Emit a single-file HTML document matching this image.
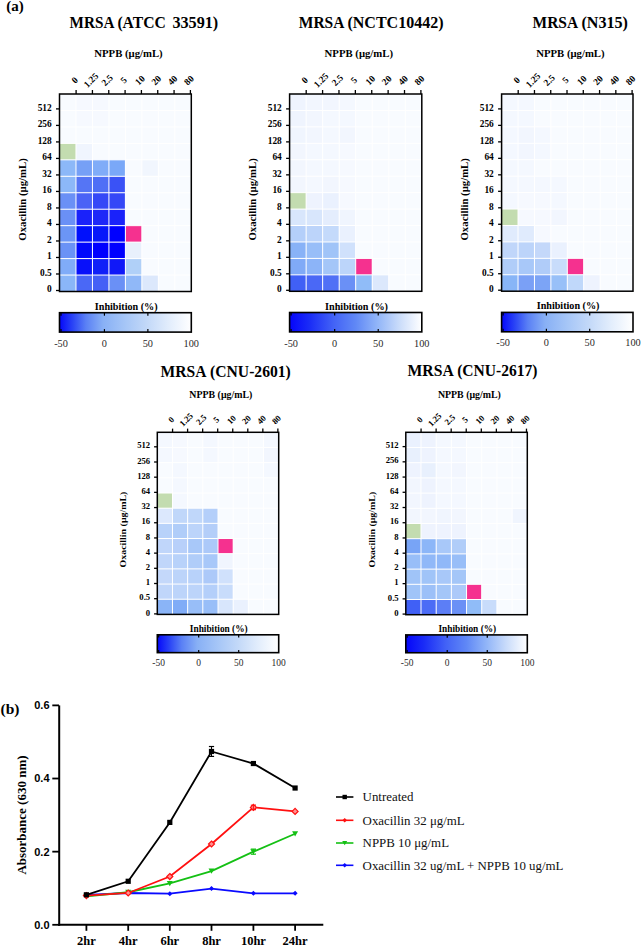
<!DOCTYPE html>
<html><head><meta charset="utf-8"><style>
html,body{margin:0;padding:0;background:#fff;}
body{width:641px;height:945px;overflow:hidden;font-family:"Liberation Serif",serif;}
svg{display:block;}
</style></head><body>
<svg width="641" height="945" viewBox="0 0 641 945">
<defs><linearGradient id="cbg" x1="0" x2="1" y1="0" y2="0">
<stop offset="0" stop-color="#0508fa"/><stop offset="0.1" stop-color="#2a44f6"/><stop offset="0.2" stop-color="#5a80f5"/><stop offset="0.33" stop-color="#88b0f5"/><stop offset="0.5" stop-color="#a6c6f7"/><stop offset="0.66" stop-color="#c2d8f8"/><stop offset="0.83" stop-color="#e2edfc"/><stop offset="1" stop-color="#ffffff"/>
</linearGradient>
<linearGradient id="cbg2" x1="0" x2="1" y1="0" y2="0">
<stop offset="0" stop-color="#0505fa"/><stop offset="0.15" stop-color="#1a2cf7"/><stop offset="0.33" stop-color="#4262f6"/><stop offset="0.5" stop-color="#6088f6"/><stop offset="0.66" stop-color="#90b4f8"/><stop offset="0.83" stop-color="#cadcfa"/><stop offset="1" stop-color="#ffffff"/>
</linearGradient></defs>
<rect width="641" height="945" fill="#fff"/>
<text x="6.3" y="10.5" font-family="'Liberation Serif', serif" font-weight="bold" font-size="15">(a)</text>
<rect x="59.50" y="94.00" width="16.48" height="16.46" fill="#f8fbff"/>
<rect x="75.97" y="94.00" width="16.48" height="16.46" fill="#f6f9ff"/>
<rect x="92.45" y="94.00" width="16.48" height="16.46" fill="#f6f9ff"/>
<rect x="108.93" y="94.00" width="16.48" height="16.46" fill="#f8fbff"/>
<rect x="125.40" y="94.00" width="16.48" height="16.46" fill="#f8fbff"/>
<rect x="141.88" y="94.00" width="16.48" height="16.46" fill="#f8fbff"/>
<rect x="158.35" y="94.00" width="16.48" height="16.46" fill="#f8fbff"/>
<rect x="174.83" y="94.00" width="16.48" height="16.46" fill="#f8fbff"/>
<rect x="59.50" y="110.46" width="16.48" height="16.46" fill="#f8fbff"/>
<rect x="75.97" y="110.46" width="16.48" height="16.46" fill="#f6f9ff"/>
<rect x="92.45" y="110.46" width="16.48" height="16.46" fill="#f6f9ff"/>
<rect x="108.93" y="110.46" width="16.48" height="16.46" fill="#f8fbff"/>
<rect x="125.40" y="110.46" width="16.48" height="16.46" fill="#f8fbff"/>
<rect x="141.88" y="110.46" width="16.48" height="16.46" fill="#f8fbff"/>
<rect x="158.35" y="110.46" width="16.48" height="16.46" fill="#f8fbff"/>
<rect x="174.83" y="110.46" width="16.48" height="16.46" fill="#f8fbff"/>
<rect x="59.50" y="126.92" width="16.48" height="16.46" fill="#f8fbff"/>
<rect x="75.97" y="126.92" width="16.48" height="16.46" fill="#f8fbff"/>
<rect x="92.45" y="126.92" width="16.48" height="16.46" fill="#f8fbff"/>
<rect x="108.93" y="126.92" width="16.48" height="16.46" fill="#f8fbff"/>
<rect x="125.40" y="126.92" width="16.48" height="16.46" fill="#f8fbff"/>
<rect x="141.88" y="126.92" width="16.48" height="16.46" fill="#f8fbff"/>
<rect x="158.35" y="126.92" width="16.48" height="16.46" fill="#f8fbff"/>
<rect x="174.83" y="126.92" width="16.48" height="16.46" fill="#f8fbff"/>
<rect x="59.50" y="143.38" width="16.48" height="16.46" fill="#c3dcb0"/>
<rect x="75.97" y="143.38" width="16.48" height="16.46" fill="#f0f5fe"/>
<rect x="92.45" y="143.38" width="16.48" height="16.46" fill="#f8fbff"/>
<rect x="108.93" y="143.38" width="16.48" height="16.46" fill="#f8fbff"/>
<rect x="125.40" y="143.38" width="16.48" height="16.46" fill="#f8fbff"/>
<rect x="141.88" y="143.38" width="16.48" height="16.46" fill="#f8fbff"/>
<rect x="158.35" y="143.38" width="16.48" height="16.46" fill="#f8fbff"/>
<rect x="174.83" y="143.38" width="16.48" height="16.46" fill="#f8fbff"/>
<rect x="59.50" y="159.83" width="16.48" height="16.46" fill="#8cb8f8"/>
<rect x="75.97" y="159.83" width="16.48" height="16.46" fill="#76a0f6"/>
<rect x="92.45" y="159.83" width="16.48" height="16.46" fill="#80acf8"/>
<rect x="108.93" y="159.83" width="16.48" height="16.46" fill="#7aa8f8"/>
<rect x="125.40" y="159.83" width="16.48" height="16.46" fill="#f8fbff"/>
<rect x="141.88" y="159.83" width="16.48" height="16.46" fill="#f1f6fe"/>
<rect x="158.35" y="159.83" width="16.48" height="16.46" fill="#f8fbff"/>
<rect x="174.83" y="159.83" width="16.48" height="16.46" fill="#f8fbff"/>
<rect x="59.50" y="176.29" width="16.48" height="16.46" fill="#8cb8f8"/>
<rect x="75.97" y="176.29" width="16.48" height="16.46" fill="#5575f5"/>
<rect x="92.45" y="176.29" width="16.48" height="16.46" fill="#4f6ff6"/>
<rect x="108.93" y="176.29" width="16.48" height="16.46" fill="#3a52f6"/>
<rect x="125.40" y="176.29" width="16.48" height="16.46" fill="#f8fbff"/>
<rect x="141.88" y="176.29" width="16.48" height="16.46" fill="#f8fbff"/>
<rect x="158.35" y="176.29" width="16.48" height="16.46" fill="#f8fbff"/>
<rect x="174.83" y="176.29" width="16.48" height="16.46" fill="#f8fbff"/>
<rect x="59.50" y="192.75" width="16.48" height="16.46" fill="#6a90f6"/>
<rect x="75.97" y="192.75" width="16.48" height="16.46" fill="#4a62f6"/>
<rect x="92.45" y="192.75" width="16.48" height="16.46" fill="#3548f7"/>
<rect x="108.93" y="192.75" width="16.48" height="16.46" fill="#3548f7"/>
<rect x="125.40" y="192.75" width="16.48" height="16.46" fill="#f8fbff"/>
<rect x="141.88" y="192.75" width="16.48" height="16.46" fill="#f8fbff"/>
<rect x="158.35" y="192.75" width="16.48" height="16.46" fill="#f8fbff"/>
<rect x="174.83" y="192.75" width="16.48" height="16.46" fill="#f8fbff"/>
<rect x="59.50" y="209.21" width="16.48" height="16.46" fill="#6a90f6"/>
<rect x="75.97" y="209.21" width="16.48" height="16.46" fill="#1a22fa"/>
<rect x="92.45" y="209.21" width="16.48" height="16.46" fill="#1e28f8"/>
<rect x="108.93" y="209.21" width="16.48" height="16.46" fill="#1a22fa"/>
<rect x="125.40" y="209.21" width="16.48" height="16.46" fill="#f8fbff"/>
<rect x="141.88" y="209.21" width="16.48" height="16.46" fill="#f8fbff"/>
<rect x="158.35" y="209.21" width="16.48" height="16.46" fill="#f8fbff"/>
<rect x="174.83" y="209.21" width="16.48" height="16.46" fill="#f8fbff"/>
<rect x="59.50" y="225.67" width="16.48" height="16.46" fill="#6b95f6"/>
<rect x="75.97" y="225.67" width="16.48" height="16.46" fill="#0010fc"/>
<rect x="92.45" y="225.67" width="16.48" height="16.46" fill="#0818fa"/>
<rect x="108.93" y="225.67" width="16.48" height="16.46" fill="#0000ff"/>
<rect x="125.40" y="225.67" width="16.48" height="16.46" fill="#f5318f"/>
<rect x="141.88" y="225.67" width="16.48" height="16.46" fill="#f8fbff"/>
<rect x="158.35" y="225.67" width="16.48" height="16.46" fill="#f8fbff"/>
<rect x="174.83" y="225.67" width="16.48" height="16.46" fill="#f8fbff"/>
<rect x="59.50" y="242.12" width="16.48" height="16.46" fill="#6a92f6"/>
<rect x="75.97" y="242.12" width="16.48" height="16.46" fill="#0008fc"/>
<rect x="92.45" y="242.12" width="16.48" height="16.46" fill="#0000ff"/>
<rect x="108.93" y="242.12" width="16.48" height="16.46" fill="#0000ff"/>
<rect x="125.40" y="242.12" width="16.48" height="16.46" fill="#e8f0fc"/>
<rect x="141.88" y="242.12" width="16.48" height="16.46" fill="#f8fbff"/>
<rect x="158.35" y="242.12" width="16.48" height="16.46" fill="#f8fbff"/>
<rect x="174.83" y="242.12" width="16.48" height="16.46" fill="#f8fbff"/>
<rect x="59.50" y="258.58" width="16.48" height="16.46" fill="#80acf8"/>
<rect x="75.97" y="258.58" width="16.48" height="16.46" fill="#0810fa"/>
<rect x="92.45" y="258.58" width="16.48" height="16.46" fill="#1020f8"/>
<rect x="108.93" y="258.58" width="16.48" height="16.46" fill="#1018f8"/>
<rect x="125.40" y="258.58" width="16.48" height="16.46" fill="#b0d0f8"/>
<rect x="141.88" y="258.58" width="16.48" height="16.46" fill="#f8fbff"/>
<rect x="158.35" y="258.58" width="16.48" height="16.46" fill="#f8fbff"/>
<rect x="174.83" y="258.58" width="16.48" height="16.46" fill="#f8fbff"/>
<rect x="59.50" y="275.04" width="16.48" height="16.46" fill="#8ab6f8"/>
<rect x="75.97" y="275.04" width="16.48" height="16.46" fill="#4a68f6"/>
<rect x="92.45" y="275.04" width="16.48" height="16.46" fill="#4560f6"/>
<rect x="108.93" y="275.04" width="16.48" height="16.46" fill="#6a90f6"/>
<rect x="125.40" y="275.04" width="16.48" height="16.46" fill="#90b8f8"/>
<rect x="141.88" y="275.04" width="16.48" height="16.46" fill="#dce8fc"/>
<rect x="158.35" y="275.04" width="16.48" height="16.46" fill="#f8fbff"/>
<rect x="174.83" y="275.04" width="16.48" height="16.46" fill="#f8fbff"/>
<line x1="75.97" y1="94" x2="75.97" y2="291.5" stroke="#fff" stroke-width="1"/>
<line x1="92.45" y1="94" x2="92.45" y2="291.5" stroke="#fff" stroke-width="1"/>
<line x1="108.93" y1="94" x2="108.93" y2="291.5" stroke="#fff" stroke-width="1"/>
<line x1="125.40" y1="94" x2="125.40" y2="291.5" stroke="#fff" stroke-width="1"/>
<line x1="141.88" y1="94" x2="141.88" y2="291.5" stroke="#fff" stroke-width="1"/>
<line x1="158.35" y1="94" x2="158.35" y2="291.5" stroke="#fff" stroke-width="1"/>
<line x1="174.83" y1="94" x2="174.83" y2="291.5" stroke="#fff" stroke-width="1"/>
<line x1="59.5" y1="110.46" x2="191.3" y2="110.46" stroke="#fff" stroke-width="1"/>
<line x1="59.5" y1="126.92" x2="191.3" y2="126.92" stroke="#fff" stroke-width="1"/>
<line x1="59.5" y1="143.38" x2="191.3" y2="143.38" stroke="#fff" stroke-width="1"/>
<line x1="59.5" y1="159.83" x2="191.3" y2="159.83" stroke="#fff" stroke-width="1"/>
<line x1="59.5" y1="176.29" x2="191.3" y2="176.29" stroke="#fff" stroke-width="1"/>
<line x1="59.5" y1="192.75" x2="191.3" y2="192.75" stroke="#fff" stroke-width="1"/>
<line x1="59.5" y1="209.21" x2="191.3" y2="209.21" stroke="#fff" stroke-width="1"/>
<line x1="59.5" y1="225.67" x2="191.3" y2="225.67" stroke="#fff" stroke-width="1"/>
<line x1="59.5" y1="242.12" x2="191.3" y2="242.12" stroke="#fff" stroke-width="1"/>
<line x1="59.5" y1="258.58" x2="191.3" y2="258.58" stroke="#fff" stroke-width="1"/>
<line x1="59.5" y1="275.04" x2="191.3" y2="275.04" stroke="#fff" stroke-width="1"/>
<rect x="59.5" y="94" width="131.80" height="197.50" fill="none" stroke="#000" stroke-width="1.5"/>
<line x1="76.10" y1="90.00" x2="76.10" y2="94" stroke="#000" stroke-width="1.3"/>
<text x="74.60" y="83.40" transform="rotate(-45 74.60 80.20)" text-anchor="middle" font-family="'Liberation Serif', serif" font-weight="bold" font-size="9.40">0</text>
<line x1="92.43" y1="90.00" x2="92.43" y2="94" stroke="#000" stroke-width="1.3"/>
<text x="90.93" y="83.40" transform="rotate(-45 90.93 80.20)" text-anchor="middle" font-family="'Liberation Serif', serif" font-weight="bold" font-size="9.40">1.25</text>
<line x1="108.76" y1="90.00" x2="108.76" y2="94" stroke="#000" stroke-width="1.3"/>
<text x="107.26" y="83.40" transform="rotate(-45 107.26 80.20)" text-anchor="middle" font-family="'Liberation Serif', serif" font-weight="bold" font-size="9.40">2.5</text>
<line x1="125.09" y1="90.00" x2="125.09" y2="94" stroke="#000" stroke-width="1.3"/>
<text x="123.59" y="83.40" transform="rotate(-45 123.59 80.20)" text-anchor="middle" font-family="'Liberation Serif', serif" font-weight="bold" font-size="9.40">5</text>
<line x1="141.41" y1="90.00" x2="141.41" y2="94" stroke="#000" stroke-width="1.3"/>
<text x="139.91" y="83.40" transform="rotate(-45 139.91 80.20)" text-anchor="middle" font-family="'Liberation Serif', serif" font-weight="bold" font-size="9.40">10</text>
<line x1="157.74" y1="90.00" x2="157.74" y2="94" stroke="#000" stroke-width="1.3"/>
<text x="156.24" y="83.40" transform="rotate(-45 156.24 80.20)" text-anchor="middle" font-family="'Liberation Serif', serif" font-weight="bold" font-size="9.40">20</text>
<line x1="174.07" y1="90.00" x2="174.07" y2="94" stroke="#000" stroke-width="1.3"/>
<text x="172.57" y="83.40" transform="rotate(-45 172.57 80.20)" text-anchor="middle" font-family="'Liberation Serif', serif" font-weight="bold" font-size="9.40">40</text>
<line x1="190.40" y1="90.00" x2="190.40" y2="94" stroke="#000" stroke-width="1.3"/>
<text x="188.90" y="83.40" transform="rotate(-45 188.90 80.20)" text-anchor="middle" font-family="'Liberation Serif', serif" font-weight="bold" font-size="9.40">80</text>
<line x1="56.00" y1="108.90" x2="59.5" y2="108.90" stroke="#000" stroke-width="1.3"/>
<text x="51.70" y="110.70" text-anchor="end" font-family="'Liberation Serif', serif" font-weight="bold" font-size="9.40">512</text>
<line x1="56.00" y1="125.41" x2="59.5" y2="125.41" stroke="#000" stroke-width="1.3"/>
<text x="51.70" y="127.21" text-anchor="end" font-family="'Liberation Serif', serif" font-weight="bold" font-size="9.40">256</text>
<line x1="56.00" y1="141.92" x2="59.5" y2="141.92" stroke="#000" stroke-width="1.3"/>
<text x="51.70" y="143.72" text-anchor="end" font-family="'Liberation Serif', serif" font-weight="bold" font-size="9.40">128</text>
<line x1="56.00" y1="158.43" x2="59.5" y2="158.43" stroke="#000" stroke-width="1.3"/>
<text x="51.70" y="160.23" text-anchor="end" font-family="'Liberation Serif', serif" font-weight="bold" font-size="9.40">64</text>
<line x1="56.00" y1="174.94" x2="59.5" y2="174.94" stroke="#000" stroke-width="1.3"/>
<text x="51.70" y="176.74" text-anchor="end" font-family="'Liberation Serif', serif" font-weight="bold" font-size="9.40">32</text>
<line x1="56.00" y1="191.45" x2="59.5" y2="191.45" stroke="#000" stroke-width="1.3"/>
<text x="51.70" y="193.25" text-anchor="end" font-family="'Liberation Serif', serif" font-weight="bold" font-size="9.40">16</text>
<line x1="56.00" y1="207.95" x2="59.5" y2="207.95" stroke="#000" stroke-width="1.3"/>
<text x="51.70" y="209.75" text-anchor="end" font-family="'Liberation Serif', serif" font-weight="bold" font-size="9.40">8</text>
<line x1="56.00" y1="224.46" x2="59.5" y2="224.46" stroke="#000" stroke-width="1.3"/>
<text x="51.70" y="226.26" text-anchor="end" font-family="'Liberation Serif', serif" font-weight="bold" font-size="9.40">4</text>
<line x1="56.00" y1="240.97" x2="59.5" y2="240.97" stroke="#000" stroke-width="1.3"/>
<text x="51.70" y="242.77" text-anchor="end" font-family="'Liberation Serif', serif" font-weight="bold" font-size="9.40">2</text>
<line x1="56.00" y1="257.48" x2="59.5" y2="257.48" stroke="#000" stroke-width="1.3"/>
<text x="51.70" y="259.28" text-anchor="end" font-family="'Liberation Serif', serif" font-weight="bold" font-size="9.40">1</text>
<line x1="56.00" y1="273.99" x2="59.5" y2="273.99" stroke="#000" stroke-width="1.3"/>
<text x="51.70" y="275.79" text-anchor="end" font-family="'Liberation Serif', serif" font-weight="bold" font-size="9.40">0.5</text>
<line x1="56.00" y1="290.50" x2="59.5" y2="290.50" stroke="#000" stroke-width="1.3"/>
<text x="51.70" y="292.30" text-anchor="end" font-family="'Liberation Serif', serif" font-weight="bold" font-size="9.40">0</text>
<text x="128.50" y="56.70" text-anchor="middle" textLength="68.40" lengthAdjust="spacingAndGlyphs" font-family="'Liberation Serif', serif" font-weight="bold" font-size="10.30">NPPB (μg/mL)</text>
<text x="22.30" y="199.45" transform="rotate(-90 22.30 199.45)" text-anchor="middle" dominant-baseline="central" textLength="82.40" lengthAdjust="spacingAndGlyphs" font-family="'Liberation Serif', serif" font-weight="bold" font-size="10.00">Oxacillin (μg/mL)</text>
<text x="126.20" y="309.70" text-anchor="middle" textLength="62.80" lengthAdjust="spacingAndGlyphs" font-family="'Liberation Serif', serif" font-weight="bold" font-size="10.10">Inhibition (%)</text>
<rect x="59.5" y="312.70" width="131.80" height="19.40" fill="url(#cbg)" stroke="#000" stroke-width="1.6"/>
<line x1="61.00" y1="312.7" x2="61.00" y2="315.7" stroke="#000" stroke-width="1.2"/>
<line x1="61.00" y1="329.1" x2="61.00" y2="332.1" stroke="#000" stroke-width="1.2"/>
<text x="61.00" y="346.70" text-anchor="middle" font-family="'Liberation Serif', serif" font-size="10.30" fill="#2a2a2a">-50</text>
<line x1="104.43" y1="312.7" x2="104.43" y2="315.7" stroke="#000" stroke-width="1.2"/>
<line x1="104.43" y1="329.1" x2="104.43" y2="332.1" stroke="#000" stroke-width="1.2"/>
<text x="104.43" y="346.70" text-anchor="middle" font-family="'Liberation Serif', serif" font-size="10.30" fill="#2a2a2a">0</text>
<line x1="147.87" y1="312.7" x2="147.87" y2="315.7" stroke="#000" stroke-width="1.2"/>
<line x1="147.87" y1="329.1" x2="147.87" y2="332.1" stroke="#000" stroke-width="1.2"/>
<text x="147.87" y="346.70" text-anchor="middle" font-family="'Liberation Serif', serif" font-size="10.30" fill="#2a2a2a">50</text>
<text x="191.30" y="346.70" text-anchor="middle" font-family="'Liberation Serif', serif" font-size="10.30" fill="#2a2a2a">100</text>
<rect x="289.60" y="94.00" width="16.52" height="16.44" fill="#eff4fe"/>
<rect x="306.12" y="94.00" width="16.52" height="16.44" fill="#f2f6fe"/>
<rect x="322.65" y="94.00" width="16.52" height="16.44" fill="#f2f6fe"/>
<rect x="339.18" y="94.00" width="16.52" height="16.44" fill="#f4f8ff"/>
<rect x="355.70" y="94.00" width="16.52" height="16.44" fill="#f8fbff"/>
<rect x="372.23" y="94.00" width="16.52" height="16.44" fill="#f8fbff"/>
<rect x="388.75" y="94.00" width="16.52" height="16.44" fill="#f8fbff"/>
<rect x="405.27" y="94.00" width="16.52" height="16.44" fill="#f8fbff"/>
<rect x="289.60" y="110.44" width="16.52" height="16.44" fill="#eff4fe"/>
<rect x="306.12" y="110.44" width="16.52" height="16.44" fill="#f2f6fe"/>
<rect x="322.65" y="110.44" width="16.52" height="16.44" fill="#f4f8ff"/>
<rect x="339.18" y="110.44" width="16.52" height="16.44" fill="#f4f8ff"/>
<rect x="355.70" y="110.44" width="16.52" height="16.44" fill="#f8fbff"/>
<rect x="372.23" y="110.44" width="16.52" height="16.44" fill="#f8fbff"/>
<rect x="388.75" y="110.44" width="16.52" height="16.44" fill="#f8fbff"/>
<rect x="405.27" y="110.44" width="16.52" height="16.44" fill="#f8fbff"/>
<rect x="289.60" y="126.88" width="16.52" height="16.44" fill="#f0f5fe"/>
<rect x="306.12" y="126.88" width="16.52" height="16.44" fill="#f2f6fe"/>
<rect x="322.65" y="126.88" width="16.52" height="16.44" fill="#f4f8ff"/>
<rect x="339.18" y="126.88" width="16.52" height="16.44" fill="#f2f6fe"/>
<rect x="355.70" y="126.88" width="16.52" height="16.44" fill="#f8fbff"/>
<rect x="372.23" y="126.88" width="16.52" height="16.44" fill="#f8fbff"/>
<rect x="388.75" y="126.88" width="16.52" height="16.44" fill="#f8fbff"/>
<rect x="405.27" y="126.88" width="16.52" height="16.44" fill="#f8fbff"/>
<rect x="289.60" y="143.32" width="16.52" height="16.44" fill="#f2f6fe"/>
<rect x="306.12" y="143.32" width="16.52" height="16.44" fill="#f4f8ff"/>
<rect x="322.65" y="143.32" width="16.52" height="16.44" fill="#f4f8ff"/>
<rect x="339.18" y="143.32" width="16.52" height="16.44" fill="#f6f9ff"/>
<rect x="355.70" y="143.32" width="16.52" height="16.44" fill="#f8fbff"/>
<rect x="372.23" y="143.32" width="16.52" height="16.44" fill="#f8fbff"/>
<rect x="388.75" y="143.32" width="16.52" height="16.44" fill="#f8fbff"/>
<rect x="405.27" y="143.32" width="16.52" height="16.44" fill="#f8fbff"/>
<rect x="289.60" y="159.77" width="16.52" height="16.44" fill="#f2f6fe"/>
<rect x="306.12" y="159.77" width="16.52" height="16.44" fill="#f4f8ff"/>
<rect x="322.65" y="159.77" width="16.52" height="16.44" fill="#f4f8ff"/>
<rect x="339.18" y="159.77" width="16.52" height="16.44" fill="#f6f9ff"/>
<rect x="355.70" y="159.77" width="16.52" height="16.44" fill="#f8fbff"/>
<rect x="372.23" y="159.77" width="16.52" height="16.44" fill="#f8fbff"/>
<rect x="388.75" y="159.77" width="16.52" height="16.44" fill="#f8fbff"/>
<rect x="405.27" y="159.77" width="16.52" height="16.44" fill="#f8fbff"/>
<rect x="289.60" y="176.21" width="16.52" height="16.44" fill="#f2f6fe"/>
<rect x="306.12" y="176.21" width="16.52" height="16.44" fill="#f4f8ff"/>
<rect x="322.65" y="176.21" width="16.52" height="16.44" fill="#f2f6fe"/>
<rect x="339.18" y="176.21" width="16.52" height="16.44" fill="#f6f9ff"/>
<rect x="355.70" y="176.21" width="16.52" height="16.44" fill="#f8fbff"/>
<rect x="372.23" y="176.21" width="16.52" height="16.44" fill="#f8fbff"/>
<rect x="388.75" y="176.21" width="16.52" height="16.44" fill="#f8fbff"/>
<rect x="405.27" y="176.21" width="16.52" height="16.44" fill="#f8fbff"/>
<rect x="289.60" y="192.65" width="16.52" height="16.44" fill="#c3dcb0"/>
<rect x="306.12" y="192.65" width="16.52" height="16.44" fill="#eef3fe"/>
<rect x="322.65" y="192.65" width="16.52" height="16.44" fill="#eaf1fe"/>
<rect x="339.18" y="192.65" width="16.52" height="16.44" fill="#f6f9ff"/>
<rect x="355.70" y="192.65" width="16.52" height="16.44" fill="#f8fbff"/>
<rect x="372.23" y="192.65" width="16.52" height="16.44" fill="#f8fbff"/>
<rect x="388.75" y="192.65" width="16.52" height="16.44" fill="#f8fbff"/>
<rect x="405.27" y="192.65" width="16.52" height="16.44" fill="#f8fbff"/>
<rect x="289.60" y="209.09" width="16.52" height="16.44" fill="#d8e6fc"/>
<rect x="306.12" y="209.09" width="16.52" height="16.44" fill="#d8e6fc"/>
<rect x="322.65" y="209.09" width="16.52" height="16.44" fill="#e4edfd"/>
<rect x="339.18" y="209.09" width="16.52" height="16.44" fill="#f0f5fe"/>
<rect x="355.70" y="209.09" width="16.52" height="16.44" fill="#f8fbff"/>
<rect x="372.23" y="209.09" width="16.52" height="16.44" fill="#f8fbff"/>
<rect x="388.75" y="209.09" width="16.52" height="16.44" fill="#f8fbff"/>
<rect x="405.27" y="209.09" width="16.52" height="16.44" fill="#f8fbff"/>
<rect x="289.60" y="225.53" width="16.52" height="16.44" fill="#b4cffa"/>
<rect x="306.12" y="225.53" width="16.52" height="16.44" fill="#bcd4fa"/>
<rect x="322.65" y="225.53" width="16.52" height="16.44" fill="#c4dafb"/>
<rect x="339.18" y="225.53" width="16.52" height="16.44" fill="#eaf1fe"/>
<rect x="355.70" y="225.53" width="16.52" height="16.44" fill="#f8fbff"/>
<rect x="372.23" y="225.53" width="16.52" height="16.44" fill="#f8fbff"/>
<rect x="388.75" y="225.53" width="16.52" height="16.44" fill="#f8fbff"/>
<rect x="405.27" y="225.53" width="16.52" height="16.44" fill="#f8fbff"/>
<rect x="289.60" y="241.97" width="16.52" height="16.44" fill="#88b2f7"/>
<rect x="306.12" y="241.97" width="16.52" height="16.44" fill="#98bef8"/>
<rect x="322.65" y="241.97" width="16.52" height="16.44" fill="#a0c4f8"/>
<rect x="339.18" y="241.97" width="16.52" height="16.44" fill="#d0e1fc"/>
<rect x="355.70" y="241.97" width="16.52" height="16.44" fill="#f8fbff"/>
<rect x="372.23" y="241.97" width="16.52" height="16.44" fill="#f8fbff"/>
<rect x="388.75" y="241.97" width="16.52" height="16.44" fill="#f8fbff"/>
<rect x="405.27" y="241.97" width="16.52" height="16.44" fill="#f8fbff"/>
<rect x="289.60" y="258.42" width="16.52" height="16.44" fill="#80aaf7"/>
<rect x="306.12" y="258.42" width="16.52" height="16.44" fill="#8cb4f8"/>
<rect x="322.65" y="258.42" width="16.52" height="16.44" fill="#a4c6f8"/>
<rect x="339.18" y="258.42" width="16.52" height="16.44" fill="#bcd5fa"/>
<rect x="355.70" y="258.42" width="16.52" height="16.44" fill="#f5318f"/>
<rect x="372.23" y="258.42" width="16.52" height="16.44" fill="#f8fbff"/>
<rect x="388.75" y="258.42" width="16.52" height="16.44" fill="#f8fbff"/>
<rect x="405.27" y="258.42" width="16.52" height="16.44" fill="#f8fbff"/>
<rect x="289.60" y="274.86" width="16.52" height="16.44" fill="#4060f6"/>
<rect x="306.12" y="274.86" width="16.52" height="16.44" fill="#4a68f6"/>
<rect x="322.65" y="274.86" width="16.52" height="16.44" fill="#5070f6"/>
<rect x="339.18" y="274.86" width="16.52" height="16.44" fill="#6a90f6"/>
<rect x="355.70" y="274.86" width="16.52" height="16.44" fill="#90bcf8"/>
<rect x="372.23" y="274.86" width="16.52" height="16.44" fill="#dce8fc"/>
<rect x="388.75" y="274.86" width="16.52" height="16.44" fill="#f8fbff"/>
<rect x="405.27" y="274.86" width="16.52" height="16.44" fill="#f8fbff"/>
<line x1="306.12" y1="94" x2="306.12" y2="291.3" stroke="#fff" stroke-width="1"/>
<line x1="322.65" y1="94" x2="322.65" y2="291.3" stroke="#fff" stroke-width="1"/>
<line x1="339.18" y1="94" x2="339.18" y2="291.3" stroke="#fff" stroke-width="1"/>
<line x1="355.70" y1="94" x2="355.70" y2="291.3" stroke="#fff" stroke-width="1"/>
<line x1="372.23" y1="94" x2="372.23" y2="291.3" stroke="#fff" stroke-width="1"/>
<line x1="388.75" y1="94" x2="388.75" y2="291.3" stroke="#fff" stroke-width="1"/>
<line x1="405.27" y1="94" x2="405.27" y2="291.3" stroke="#fff" stroke-width="1"/>
<line x1="289.6" y1="110.44" x2="421.8" y2="110.44" stroke="#fff" stroke-width="1"/>
<line x1="289.6" y1="126.88" x2="421.8" y2="126.88" stroke="#fff" stroke-width="1"/>
<line x1="289.6" y1="143.32" x2="421.8" y2="143.32" stroke="#fff" stroke-width="1"/>
<line x1="289.6" y1="159.77" x2="421.8" y2="159.77" stroke="#fff" stroke-width="1"/>
<line x1="289.6" y1="176.21" x2="421.8" y2="176.21" stroke="#fff" stroke-width="1"/>
<line x1="289.6" y1="192.65" x2="421.8" y2="192.65" stroke="#fff" stroke-width="1"/>
<line x1="289.6" y1="209.09" x2="421.8" y2="209.09" stroke="#fff" stroke-width="1"/>
<line x1="289.6" y1="225.53" x2="421.8" y2="225.53" stroke="#fff" stroke-width="1"/>
<line x1="289.6" y1="241.97" x2="421.8" y2="241.97" stroke="#fff" stroke-width="1"/>
<line x1="289.6" y1="258.42" x2="421.8" y2="258.42" stroke="#fff" stroke-width="1"/>
<line x1="289.6" y1="274.86" x2="421.8" y2="274.86" stroke="#fff" stroke-width="1"/>
<rect x="289.6" y="94" width="132.20" height="197.30" fill="none" stroke="#000" stroke-width="1.5"/>
<line x1="306.20" y1="90.00" x2="306.20" y2="94" stroke="#000" stroke-width="1.3"/>
<text x="304.70" y="83.40" transform="rotate(-45 304.70 80.20)" text-anchor="middle" font-family="'Liberation Serif', serif" font-weight="bold" font-size="9.40">0</text>
<line x1="322.59" y1="90.00" x2="322.59" y2="94" stroke="#000" stroke-width="1.3"/>
<text x="321.09" y="83.40" transform="rotate(-45 321.09 80.20)" text-anchor="middle" font-family="'Liberation Serif', serif" font-weight="bold" font-size="9.40">1.25</text>
<line x1="338.97" y1="90.00" x2="338.97" y2="94" stroke="#000" stroke-width="1.3"/>
<text x="337.47" y="83.40" transform="rotate(-45 337.47 80.20)" text-anchor="middle" font-family="'Liberation Serif', serif" font-weight="bold" font-size="9.40">2.5</text>
<line x1="355.36" y1="90.00" x2="355.36" y2="94" stroke="#000" stroke-width="1.3"/>
<text x="353.86" y="83.40" transform="rotate(-45 353.86 80.20)" text-anchor="middle" font-family="'Liberation Serif', serif" font-weight="bold" font-size="9.40">5</text>
<line x1="371.74" y1="90.00" x2="371.74" y2="94" stroke="#000" stroke-width="1.3"/>
<text x="370.24" y="83.40" transform="rotate(-45 370.24 80.20)" text-anchor="middle" font-family="'Liberation Serif', serif" font-weight="bold" font-size="9.40">10</text>
<line x1="388.13" y1="90.00" x2="388.13" y2="94" stroke="#000" stroke-width="1.3"/>
<text x="386.63" y="83.40" transform="rotate(-45 386.63 80.20)" text-anchor="middle" font-family="'Liberation Serif', serif" font-weight="bold" font-size="9.40">20</text>
<line x1="404.51" y1="90.00" x2="404.51" y2="94" stroke="#000" stroke-width="1.3"/>
<text x="403.01" y="83.40" transform="rotate(-45 403.01 80.20)" text-anchor="middle" font-family="'Liberation Serif', serif" font-weight="bold" font-size="9.40">40</text>
<line x1="420.90" y1="90.00" x2="420.90" y2="94" stroke="#000" stroke-width="1.3"/>
<text x="419.40" y="83.40" transform="rotate(-45 419.40 80.20)" text-anchor="middle" font-family="'Liberation Serif', serif" font-weight="bold" font-size="9.40">80</text>
<line x1="286.10" y1="108.90" x2="289.6" y2="108.90" stroke="#000" stroke-width="1.3"/>
<text x="281.80" y="110.70" text-anchor="end" font-family="'Liberation Serif', serif" font-weight="bold" font-size="9.40">512</text>
<line x1="286.10" y1="125.39" x2="289.6" y2="125.39" stroke="#000" stroke-width="1.3"/>
<text x="281.80" y="127.19" text-anchor="end" font-family="'Liberation Serif', serif" font-weight="bold" font-size="9.40">256</text>
<line x1="286.10" y1="141.88" x2="289.6" y2="141.88" stroke="#000" stroke-width="1.3"/>
<text x="281.80" y="143.68" text-anchor="end" font-family="'Liberation Serif', serif" font-weight="bold" font-size="9.40">128</text>
<line x1="286.10" y1="158.37" x2="289.6" y2="158.37" stroke="#000" stroke-width="1.3"/>
<text x="281.80" y="160.17" text-anchor="end" font-family="'Liberation Serif', serif" font-weight="bold" font-size="9.40">64</text>
<line x1="286.10" y1="174.86" x2="289.6" y2="174.86" stroke="#000" stroke-width="1.3"/>
<text x="281.80" y="176.66" text-anchor="end" font-family="'Liberation Serif', serif" font-weight="bold" font-size="9.40">32</text>
<line x1="286.10" y1="191.35" x2="289.6" y2="191.35" stroke="#000" stroke-width="1.3"/>
<text x="281.80" y="193.15" text-anchor="end" font-family="'Liberation Serif', serif" font-weight="bold" font-size="9.40">16</text>
<line x1="286.10" y1="207.85" x2="289.6" y2="207.85" stroke="#000" stroke-width="1.3"/>
<text x="281.80" y="209.65" text-anchor="end" font-family="'Liberation Serif', serif" font-weight="bold" font-size="9.40">8</text>
<line x1="286.10" y1="224.34" x2="289.6" y2="224.34" stroke="#000" stroke-width="1.3"/>
<text x="281.80" y="226.14" text-anchor="end" font-family="'Liberation Serif', serif" font-weight="bold" font-size="9.40">4</text>
<line x1="286.10" y1="240.83" x2="289.6" y2="240.83" stroke="#000" stroke-width="1.3"/>
<text x="281.80" y="242.63" text-anchor="end" font-family="'Liberation Serif', serif" font-weight="bold" font-size="9.40">2</text>
<line x1="286.10" y1="257.32" x2="289.6" y2="257.32" stroke="#000" stroke-width="1.3"/>
<text x="281.80" y="259.12" text-anchor="end" font-family="'Liberation Serif', serif" font-weight="bold" font-size="9.40">1</text>
<line x1="286.10" y1="273.81" x2="289.6" y2="273.81" stroke="#000" stroke-width="1.3"/>
<text x="281.80" y="275.61" text-anchor="end" font-family="'Liberation Serif', serif" font-weight="bold" font-size="9.40">0.5</text>
<line x1="286.10" y1="290.30" x2="289.6" y2="290.30" stroke="#000" stroke-width="1.3"/>
<text x="281.80" y="292.10" text-anchor="end" font-family="'Liberation Serif', serif" font-weight="bold" font-size="9.40">0</text>
<text x="358.80" y="56.70" text-anchor="middle" textLength="68.40" lengthAdjust="spacingAndGlyphs" font-family="'Liberation Serif', serif" font-weight="bold" font-size="10.30">NPPB (μg/mL)</text>
<text x="252.40" y="199.35" transform="rotate(-90 252.40 199.35)" text-anchor="middle" dominant-baseline="central" textLength="82.40" lengthAdjust="spacingAndGlyphs" font-family="'Liberation Serif', serif" font-weight="bold" font-size="10.00">Oxacillin (μg/mL)</text>
<text x="356.50" y="309.50" text-anchor="middle" textLength="62.80" lengthAdjust="spacingAndGlyphs" font-family="'Liberation Serif', serif" font-weight="bold" font-size="10.10">Inhibition (%)</text>
<rect x="289.6" y="312.50" width="132.20" height="19.40" fill="url(#cbg2)" stroke="#000" stroke-width="1.6"/>
<line x1="291.10" y1="312.5" x2="291.10" y2="315.5" stroke="#000" stroke-width="1.2"/>
<line x1="291.10" y1="328.90000000000003" x2="291.10" y2="331.90000000000003" stroke="#000" stroke-width="1.2"/>
<text x="291.10" y="346.50" text-anchor="middle" font-family="'Liberation Serif', serif" font-size="10.30" fill="#2a2a2a">-50</text>
<line x1="334.67" y1="312.5" x2="334.67" y2="315.5" stroke="#000" stroke-width="1.2"/>
<line x1="334.67" y1="328.90000000000003" x2="334.67" y2="331.90000000000003" stroke="#000" stroke-width="1.2"/>
<text x="334.67" y="346.50" text-anchor="middle" font-family="'Liberation Serif', serif" font-size="10.30" fill="#2a2a2a">0</text>
<line x1="378.23" y1="312.5" x2="378.23" y2="315.5" stroke="#000" stroke-width="1.2"/>
<line x1="378.23" y1="328.90000000000003" x2="378.23" y2="331.90000000000003" stroke="#000" stroke-width="1.2"/>
<text x="378.23" y="346.50" text-anchor="middle" font-family="'Liberation Serif', serif" font-size="10.30" fill="#2a2a2a">50</text>
<text x="421.80" y="346.50" text-anchor="middle" font-family="'Liberation Serif', serif" font-size="10.30" fill="#2a2a2a">100</text>
<rect x="501.60" y="94.00" width="16.42" height="16.43" fill="#f4f8ff"/>
<rect x="518.02" y="94.00" width="16.42" height="16.43" fill="#f4f8ff"/>
<rect x="534.45" y="94.00" width="16.42" height="16.43" fill="#f8fbff"/>
<rect x="550.88" y="94.00" width="16.42" height="16.43" fill="#f8fbff"/>
<rect x="567.30" y="94.00" width="16.42" height="16.43" fill="#f8fbff"/>
<rect x="583.73" y="94.00" width="16.42" height="16.43" fill="#f8fbff"/>
<rect x="600.15" y="94.00" width="16.42" height="16.43" fill="#f8fbff"/>
<rect x="616.58" y="94.00" width="16.42" height="16.43" fill="#f8fbff"/>
<rect x="501.60" y="110.43" width="16.42" height="16.43" fill="#f4f8ff"/>
<rect x="518.02" y="110.43" width="16.42" height="16.43" fill="#f4f8ff"/>
<rect x="534.45" y="110.43" width="16.42" height="16.43" fill="#f8fbff"/>
<rect x="550.88" y="110.43" width="16.42" height="16.43" fill="#f8fbff"/>
<rect x="567.30" y="110.43" width="16.42" height="16.43" fill="#f8fbff"/>
<rect x="583.73" y="110.43" width="16.42" height="16.43" fill="#f8fbff"/>
<rect x="600.15" y="110.43" width="16.42" height="16.43" fill="#f8fbff"/>
<rect x="616.58" y="110.43" width="16.42" height="16.43" fill="#f8fbff"/>
<rect x="501.60" y="126.87" width="16.42" height="16.43" fill="#f4f8ff"/>
<rect x="518.02" y="126.87" width="16.42" height="16.43" fill="#f2f6fe"/>
<rect x="534.45" y="126.87" width="16.42" height="16.43" fill="#f4f8ff"/>
<rect x="550.88" y="126.87" width="16.42" height="16.43" fill="#f8fbff"/>
<rect x="567.30" y="126.87" width="16.42" height="16.43" fill="#f8fbff"/>
<rect x="583.73" y="126.87" width="16.42" height="16.43" fill="#f8fbff"/>
<rect x="600.15" y="126.87" width="16.42" height="16.43" fill="#f8fbff"/>
<rect x="616.58" y="126.87" width="16.42" height="16.43" fill="#f8fbff"/>
<rect x="501.60" y="143.30" width="16.42" height="16.43" fill="#f4f8ff"/>
<rect x="518.02" y="143.30" width="16.42" height="16.43" fill="#f2f6fe"/>
<rect x="534.45" y="143.30" width="16.42" height="16.43" fill="#f4f8ff"/>
<rect x="550.88" y="143.30" width="16.42" height="16.43" fill="#f8fbff"/>
<rect x="567.30" y="143.30" width="16.42" height="16.43" fill="#f8fbff"/>
<rect x="583.73" y="143.30" width="16.42" height="16.43" fill="#f8fbff"/>
<rect x="600.15" y="143.30" width="16.42" height="16.43" fill="#f8fbff"/>
<rect x="616.58" y="143.30" width="16.42" height="16.43" fill="#f8fbff"/>
<rect x="501.60" y="159.73" width="16.42" height="16.43" fill="#f4f8ff"/>
<rect x="518.02" y="159.73" width="16.42" height="16.43" fill="#f4f8ff"/>
<rect x="534.45" y="159.73" width="16.42" height="16.43" fill="#f8fbff"/>
<rect x="550.88" y="159.73" width="16.42" height="16.43" fill="#f8fbff"/>
<rect x="567.30" y="159.73" width="16.42" height="16.43" fill="#f8fbff"/>
<rect x="583.73" y="159.73" width="16.42" height="16.43" fill="#f8fbff"/>
<rect x="600.15" y="159.73" width="16.42" height="16.43" fill="#f8fbff"/>
<rect x="616.58" y="159.73" width="16.42" height="16.43" fill="#f8fbff"/>
<rect x="501.60" y="176.17" width="16.42" height="16.43" fill="#f4f8ff"/>
<rect x="518.02" y="176.17" width="16.42" height="16.43" fill="#f4f8ff"/>
<rect x="534.45" y="176.17" width="16.42" height="16.43" fill="#f4f8ff"/>
<rect x="550.88" y="176.17" width="16.42" height="16.43" fill="#f4f8ff"/>
<rect x="567.30" y="176.17" width="16.42" height="16.43" fill="#f8fbff"/>
<rect x="583.73" y="176.17" width="16.42" height="16.43" fill="#f8fbff"/>
<rect x="600.15" y="176.17" width="16.42" height="16.43" fill="#f8fbff"/>
<rect x="616.58" y="176.17" width="16.42" height="16.43" fill="#f8fbff"/>
<rect x="501.60" y="192.60" width="16.42" height="16.43" fill="#f4f8ff"/>
<rect x="518.02" y="192.60" width="16.42" height="16.43" fill="#f6f9ff"/>
<rect x="534.45" y="192.60" width="16.42" height="16.43" fill="#f6f9ff"/>
<rect x="550.88" y="192.60" width="16.42" height="16.43" fill="#f4f8ff"/>
<rect x="567.30" y="192.60" width="16.42" height="16.43" fill="#f8fbff"/>
<rect x="583.73" y="192.60" width="16.42" height="16.43" fill="#f8fbff"/>
<rect x="600.15" y="192.60" width="16.42" height="16.43" fill="#f8fbff"/>
<rect x="616.58" y="192.60" width="16.42" height="16.43" fill="#f8fbff"/>
<rect x="501.60" y="209.03" width="16.42" height="16.43" fill="#c3dcb0"/>
<rect x="518.02" y="209.03" width="16.42" height="16.43" fill="#f6f9ff"/>
<rect x="534.45" y="209.03" width="16.42" height="16.43" fill="#f6f9ff"/>
<rect x="550.88" y="209.03" width="16.42" height="16.43" fill="#f2f6fe"/>
<rect x="567.30" y="209.03" width="16.42" height="16.43" fill="#f8fbff"/>
<rect x="583.73" y="209.03" width="16.42" height="16.43" fill="#f8fbff"/>
<rect x="600.15" y="209.03" width="16.42" height="16.43" fill="#f8fbff"/>
<rect x="616.58" y="209.03" width="16.42" height="16.43" fill="#f8fbff"/>
<rect x="501.60" y="225.47" width="16.42" height="16.43" fill="#e0ebfd"/>
<rect x="518.02" y="225.47" width="16.42" height="16.43" fill="#e0ebfd"/>
<rect x="534.45" y="225.47" width="16.42" height="16.43" fill="#f6f9ff"/>
<rect x="550.88" y="225.47" width="16.42" height="16.43" fill="#f8fbff"/>
<rect x="567.30" y="225.47" width="16.42" height="16.43" fill="#f8fbff"/>
<rect x="583.73" y="225.47" width="16.42" height="16.43" fill="#f8fbff"/>
<rect x="600.15" y="225.47" width="16.42" height="16.43" fill="#f8fbff"/>
<rect x="616.58" y="225.47" width="16.42" height="16.43" fill="#f8fbff"/>
<rect x="501.60" y="241.90" width="16.42" height="16.43" fill="#c0d6fa"/>
<rect x="518.02" y="241.90" width="16.42" height="16.43" fill="#bcd4fa"/>
<rect x="534.45" y="241.90" width="16.42" height="16.43" fill="#c4d8fa"/>
<rect x="550.88" y="241.90" width="16.42" height="16.43" fill="#eaf1fe"/>
<rect x="567.30" y="241.90" width="16.42" height="16.43" fill="#f8fbff"/>
<rect x="583.73" y="241.90" width="16.42" height="16.43" fill="#f8fbff"/>
<rect x="600.15" y="241.90" width="16.42" height="16.43" fill="#f8fbff"/>
<rect x="616.58" y="241.90" width="16.42" height="16.43" fill="#f8fbff"/>
<rect x="501.60" y="258.33" width="16.42" height="16.43" fill="#b0cdf9"/>
<rect x="518.02" y="258.33" width="16.42" height="16.43" fill="#a8c8f9"/>
<rect x="534.45" y="258.33" width="16.42" height="16.43" fill="#b0ccf9"/>
<rect x="550.88" y="258.33" width="16.42" height="16.43" fill="#c8dcfb"/>
<rect x="567.30" y="258.33" width="16.42" height="16.43" fill="#f5318f"/>
<rect x="583.73" y="258.33" width="16.42" height="16.43" fill="#f8fbff"/>
<rect x="600.15" y="258.33" width="16.42" height="16.43" fill="#f8fbff"/>
<rect x="616.58" y="258.33" width="16.42" height="16.43" fill="#f8fbff"/>
<rect x="501.60" y="274.77" width="16.42" height="16.43" fill="#88b5f7"/>
<rect x="518.02" y="274.77" width="16.42" height="16.43" fill="#7aa0f6"/>
<rect x="534.45" y="274.77" width="16.42" height="16.43" fill="#7ca4f6"/>
<rect x="550.88" y="274.77" width="16.42" height="16.43" fill="#98c0f8"/>
<rect x="567.30" y="274.77" width="16.42" height="16.43" fill="#c0d8fa"/>
<rect x="583.73" y="274.77" width="16.42" height="16.43" fill="#eef3fe"/>
<rect x="600.15" y="274.77" width="16.42" height="16.43" fill="#f8fbff"/>
<rect x="616.58" y="274.77" width="16.42" height="16.43" fill="#f8fbff"/>
<line x1="518.02" y1="94" x2="518.02" y2="291.2" stroke="#fff" stroke-width="1"/>
<line x1="534.45" y1="94" x2="534.45" y2="291.2" stroke="#fff" stroke-width="1"/>
<line x1="550.88" y1="94" x2="550.88" y2="291.2" stroke="#fff" stroke-width="1"/>
<line x1="567.30" y1="94" x2="567.30" y2="291.2" stroke="#fff" stroke-width="1"/>
<line x1="583.73" y1="94" x2="583.73" y2="291.2" stroke="#fff" stroke-width="1"/>
<line x1="600.15" y1="94" x2="600.15" y2="291.2" stroke="#fff" stroke-width="1"/>
<line x1="616.58" y1="94" x2="616.58" y2="291.2" stroke="#fff" stroke-width="1"/>
<line x1="501.6" y1="110.43" x2="633" y2="110.43" stroke="#fff" stroke-width="1"/>
<line x1="501.6" y1="126.87" x2="633" y2="126.87" stroke="#fff" stroke-width="1"/>
<line x1="501.6" y1="143.30" x2="633" y2="143.30" stroke="#fff" stroke-width="1"/>
<line x1="501.6" y1="159.73" x2="633" y2="159.73" stroke="#fff" stroke-width="1"/>
<line x1="501.6" y1="176.17" x2="633" y2="176.17" stroke="#fff" stroke-width="1"/>
<line x1="501.6" y1="192.60" x2="633" y2="192.60" stroke="#fff" stroke-width="1"/>
<line x1="501.6" y1="209.03" x2="633" y2="209.03" stroke="#fff" stroke-width="1"/>
<line x1="501.6" y1="225.47" x2="633" y2="225.47" stroke="#fff" stroke-width="1"/>
<line x1="501.6" y1="241.90" x2="633" y2="241.90" stroke="#fff" stroke-width="1"/>
<line x1="501.6" y1="258.33" x2="633" y2="258.33" stroke="#fff" stroke-width="1"/>
<line x1="501.6" y1="274.77" x2="633" y2="274.77" stroke="#fff" stroke-width="1"/>
<rect x="501.6" y="94" width="131.40" height="197.20" fill="none" stroke="#000" stroke-width="1.5"/>
<line x1="518.20" y1="90.00" x2="518.20" y2="94" stroke="#000" stroke-width="1.3"/>
<text x="516.70" y="83.40" transform="rotate(-45 516.70 80.20)" text-anchor="middle" font-family="'Liberation Serif', serif" font-weight="bold" font-size="9.40">0</text>
<line x1="534.47" y1="90.00" x2="534.47" y2="94" stroke="#000" stroke-width="1.3"/>
<text x="532.97" y="83.40" transform="rotate(-45 532.97 80.20)" text-anchor="middle" font-family="'Liberation Serif', serif" font-weight="bold" font-size="9.40">1.25</text>
<line x1="550.74" y1="90.00" x2="550.74" y2="94" stroke="#000" stroke-width="1.3"/>
<text x="549.24" y="83.40" transform="rotate(-45 549.24 80.20)" text-anchor="middle" font-family="'Liberation Serif', serif" font-weight="bold" font-size="9.40">2.5</text>
<line x1="567.01" y1="90.00" x2="567.01" y2="94" stroke="#000" stroke-width="1.3"/>
<text x="565.51" y="83.40" transform="rotate(-45 565.51 80.20)" text-anchor="middle" font-family="'Liberation Serif', serif" font-weight="bold" font-size="9.40">5</text>
<line x1="583.29" y1="90.00" x2="583.29" y2="94" stroke="#000" stroke-width="1.3"/>
<text x="581.79" y="83.40" transform="rotate(-45 581.79 80.20)" text-anchor="middle" font-family="'Liberation Serif', serif" font-weight="bold" font-size="9.40">10</text>
<line x1="599.56" y1="90.00" x2="599.56" y2="94" stroke="#000" stroke-width="1.3"/>
<text x="598.06" y="83.40" transform="rotate(-45 598.06 80.20)" text-anchor="middle" font-family="'Liberation Serif', serif" font-weight="bold" font-size="9.40">20</text>
<line x1="615.83" y1="90.00" x2="615.83" y2="94" stroke="#000" stroke-width="1.3"/>
<text x="614.33" y="83.40" transform="rotate(-45 614.33 80.20)" text-anchor="middle" font-family="'Liberation Serif', serif" font-weight="bold" font-size="9.40">40</text>
<line x1="632.10" y1="90.00" x2="632.10" y2="94" stroke="#000" stroke-width="1.3"/>
<text x="630.60" y="83.40" transform="rotate(-45 630.60 80.20)" text-anchor="middle" font-family="'Liberation Serif', serif" font-weight="bold" font-size="9.40">80</text>
<line x1="498.10" y1="108.90" x2="501.6" y2="108.90" stroke="#000" stroke-width="1.3"/>
<text x="493.80" y="110.70" text-anchor="end" font-family="'Liberation Serif', serif" font-weight="bold" font-size="9.40">512</text>
<line x1="498.10" y1="125.38" x2="501.6" y2="125.38" stroke="#000" stroke-width="1.3"/>
<text x="493.80" y="127.18" text-anchor="end" font-family="'Liberation Serif', serif" font-weight="bold" font-size="9.40">256</text>
<line x1="498.10" y1="141.86" x2="501.6" y2="141.86" stroke="#000" stroke-width="1.3"/>
<text x="493.80" y="143.66" text-anchor="end" font-family="'Liberation Serif', serif" font-weight="bold" font-size="9.40">128</text>
<line x1="498.10" y1="158.35" x2="501.6" y2="158.35" stroke="#000" stroke-width="1.3"/>
<text x="493.80" y="160.15" text-anchor="end" font-family="'Liberation Serif', serif" font-weight="bold" font-size="9.40">64</text>
<line x1="498.10" y1="174.83" x2="501.6" y2="174.83" stroke="#000" stroke-width="1.3"/>
<text x="493.80" y="176.63" text-anchor="end" font-family="'Liberation Serif', serif" font-weight="bold" font-size="9.40">32</text>
<line x1="498.10" y1="191.31" x2="501.6" y2="191.31" stroke="#000" stroke-width="1.3"/>
<text x="493.80" y="193.11" text-anchor="end" font-family="'Liberation Serif', serif" font-weight="bold" font-size="9.40">16</text>
<line x1="498.10" y1="207.79" x2="501.6" y2="207.79" stroke="#000" stroke-width="1.3"/>
<text x="493.80" y="209.59" text-anchor="end" font-family="'Liberation Serif', serif" font-weight="bold" font-size="9.40">8</text>
<line x1="498.10" y1="224.27" x2="501.6" y2="224.27" stroke="#000" stroke-width="1.3"/>
<text x="493.80" y="226.07" text-anchor="end" font-family="'Liberation Serif', serif" font-weight="bold" font-size="9.40">4</text>
<line x1="498.10" y1="240.75" x2="501.6" y2="240.75" stroke="#000" stroke-width="1.3"/>
<text x="493.80" y="242.55" text-anchor="end" font-family="'Liberation Serif', serif" font-weight="bold" font-size="9.40">2</text>
<line x1="498.10" y1="257.24" x2="501.6" y2="257.24" stroke="#000" stroke-width="1.3"/>
<text x="493.80" y="259.04" text-anchor="end" font-family="'Liberation Serif', serif" font-weight="bold" font-size="9.40">1</text>
<line x1="498.10" y1="273.72" x2="501.6" y2="273.72" stroke="#000" stroke-width="1.3"/>
<text x="493.80" y="275.52" text-anchor="end" font-family="'Liberation Serif', serif" font-weight="bold" font-size="9.40">0.5</text>
<line x1="498.10" y1="290.20" x2="501.6" y2="290.20" stroke="#000" stroke-width="1.3"/>
<text x="493.80" y="292.00" text-anchor="end" font-family="'Liberation Serif', serif" font-weight="bold" font-size="9.40">0</text>
<text x="570.40" y="56.70" text-anchor="middle" textLength="68.40" lengthAdjust="spacingAndGlyphs" font-family="'Liberation Serif', serif" font-weight="bold" font-size="10.30">NPPB (μg/mL)</text>
<text x="464.40" y="199.30" transform="rotate(-90 464.40 199.30)" text-anchor="middle" dominant-baseline="central" textLength="82.40" lengthAdjust="spacingAndGlyphs" font-family="'Liberation Serif', serif" font-weight="bold" font-size="10.00">Oxacillin (μg/mL)</text>
<text x="568.10" y="309.40" text-anchor="middle" textLength="62.80" lengthAdjust="spacingAndGlyphs" font-family="'Liberation Serif', serif" font-weight="bold" font-size="10.10">Inhibition (%)</text>
<rect x="501.6" y="312.40" width="131.40" height="19.40" fill="url(#cbg)" stroke="#000" stroke-width="1.6"/>
<line x1="503.10" y1="312.4" x2="503.10" y2="315.4" stroke="#000" stroke-width="1.2"/>
<line x1="503.10" y1="328.8" x2="503.10" y2="331.8" stroke="#000" stroke-width="1.2"/>
<text x="503.10" y="346.40" text-anchor="middle" font-family="'Liberation Serif', serif" font-size="10.30" fill="#2a2a2a">-50</text>
<line x1="546.40" y1="312.4" x2="546.40" y2="315.4" stroke="#000" stroke-width="1.2"/>
<line x1="546.40" y1="328.8" x2="546.40" y2="331.8" stroke="#000" stroke-width="1.2"/>
<text x="546.40" y="346.40" text-anchor="middle" font-family="'Liberation Serif', serif" font-size="10.30" fill="#2a2a2a">0</text>
<line x1="589.70" y1="312.4" x2="589.70" y2="315.4" stroke="#000" stroke-width="1.2"/>
<line x1="589.70" y1="328.8" x2="589.70" y2="331.8" stroke="#000" stroke-width="1.2"/>
<text x="589.70" y="346.40" text-anchor="middle" font-family="'Liberation Serif', serif" font-size="10.30" fill="#2a2a2a">50</text>
<text x="633.00" y="346.40" text-anchor="middle" font-family="'Liberation Serif', serif" font-size="10.30" fill="#2a2a2a">100</text>
<rect x="157.30" y="432.30" width="15.17" height="15.17" fill="#f4f8ff"/>
<rect x="172.48" y="432.30" width="15.17" height="15.17" fill="#f6f9ff"/>
<rect x="187.65" y="432.30" width="15.17" height="15.17" fill="#f8fbff"/>
<rect x="202.82" y="432.30" width="15.17" height="15.17" fill="#f4f8ff"/>
<rect x="218.00" y="432.30" width="15.17" height="15.17" fill="#f8fbff"/>
<rect x="233.18" y="432.30" width="15.17" height="15.17" fill="#f8fbff"/>
<rect x="248.35" y="432.30" width="15.17" height="15.17" fill="#f8fbff"/>
<rect x="263.52" y="432.30" width="15.17" height="15.17" fill="#f4f8ff"/>
<rect x="157.30" y="447.48" width="15.17" height="15.17" fill="#f4f8ff"/>
<rect x="172.48" y="447.48" width="15.17" height="15.17" fill="#f6f9ff"/>
<rect x="187.65" y="447.48" width="15.17" height="15.17" fill="#f8fbff"/>
<rect x="202.82" y="447.48" width="15.17" height="15.17" fill="#f4f8ff"/>
<rect x="218.00" y="447.48" width="15.17" height="15.17" fill="#f8fbff"/>
<rect x="233.18" y="447.48" width="15.17" height="15.17" fill="#f8fbff"/>
<rect x="248.35" y="447.48" width="15.17" height="15.17" fill="#f8fbff"/>
<rect x="263.52" y="447.48" width="15.17" height="15.17" fill="#f2f6fe"/>
<rect x="157.30" y="462.65" width="15.17" height="15.17" fill="#f8fbff"/>
<rect x="172.48" y="462.65" width="15.17" height="15.17" fill="#f4f8ff"/>
<rect x="187.65" y="462.65" width="15.17" height="15.17" fill="#f8fbff"/>
<rect x="202.82" y="462.65" width="15.17" height="15.17" fill="#f8fbff"/>
<rect x="218.00" y="462.65" width="15.17" height="15.17" fill="#f8fbff"/>
<rect x="233.18" y="462.65" width="15.17" height="15.17" fill="#f8fbff"/>
<rect x="248.35" y="462.65" width="15.17" height="15.17" fill="#f8fbff"/>
<rect x="263.52" y="462.65" width="15.17" height="15.17" fill="#f4f8ff"/>
<rect x="157.30" y="477.82" width="15.17" height="15.17" fill="#f8fbff"/>
<rect x="172.48" y="477.82" width="15.17" height="15.17" fill="#f4f8ff"/>
<rect x="187.65" y="477.82" width="15.17" height="15.17" fill="#f8fbff"/>
<rect x="202.82" y="477.82" width="15.17" height="15.17" fill="#f8fbff"/>
<rect x="218.00" y="477.82" width="15.17" height="15.17" fill="#f8fbff"/>
<rect x="233.18" y="477.82" width="15.17" height="15.17" fill="#f8fbff"/>
<rect x="248.35" y="477.82" width="15.17" height="15.17" fill="#f8fbff"/>
<rect x="263.52" y="477.82" width="15.17" height="15.17" fill="#f8fbff"/>
<rect x="157.30" y="493.00" width="15.17" height="15.17" fill="#c3dcb0"/>
<rect x="172.48" y="493.00" width="15.17" height="15.17" fill="#f4f8ff"/>
<rect x="187.65" y="493.00" width="15.17" height="15.17" fill="#f8fbff"/>
<rect x="202.82" y="493.00" width="15.17" height="15.17" fill="#f8fbff"/>
<rect x="218.00" y="493.00" width="15.17" height="15.17" fill="#f8fbff"/>
<rect x="233.18" y="493.00" width="15.17" height="15.17" fill="#f8fbff"/>
<rect x="248.35" y="493.00" width="15.17" height="15.17" fill="#f8fbff"/>
<rect x="263.52" y="493.00" width="15.17" height="15.17" fill="#f8fbff"/>
<rect x="157.30" y="508.18" width="15.17" height="15.17" fill="#dce8fd"/>
<rect x="172.48" y="508.18" width="15.17" height="15.17" fill="#c0d7fa"/>
<rect x="187.65" y="508.18" width="15.17" height="15.17" fill="#c0d7fa"/>
<rect x="202.82" y="508.18" width="15.17" height="15.17" fill="#b4cffa"/>
<rect x="218.00" y="508.18" width="15.17" height="15.17" fill="#f8fbff"/>
<rect x="233.18" y="508.18" width="15.17" height="15.17" fill="#f8fbff"/>
<rect x="248.35" y="508.18" width="15.17" height="15.17" fill="#f8fbff"/>
<rect x="263.52" y="508.18" width="15.17" height="15.17" fill="#f8fbff"/>
<rect x="157.30" y="523.35" width="15.17" height="15.17" fill="#b8d2fa"/>
<rect x="172.48" y="523.35" width="15.17" height="15.17" fill="#b0cdf9"/>
<rect x="187.65" y="523.35" width="15.17" height="15.17" fill="#bcd4fa"/>
<rect x="202.82" y="523.35" width="15.17" height="15.17" fill="#b4cef9"/>
<rect x="218.00" y="523.35" width="15.17" height="15.17" fill="#f8fbff"/>
<rect x="233.18" y="523.35" width="15.17" height="15.17" fill="#f8fbff"/>
<rect x="248.35" y="523.35" width="15.17" height="15.17" fill="#f8fbff"/>
<rect x="263.52" y="523.35" width="15.17" height="15.17" fill="#f8fbff"/>
<rect x="157.30" y="538.52" width="15.17" height="15.17" fill="#c0d6fa"/>
<rect x="172.48" y="538.52" width="15.17" height="15.17" fill="#b8d0fa"/>
<rect x="187.65" y="538.52" width="15.17" height="15.17" fill="#a8c8f9"/>
<rect x="202.82" y="538.52" width="15.17" height="15.17" fill="#acc9f9"/>
<rect x="218.00" y="538.52" width="15.17" height="15.17" fill="#f5318f"/>
<rect x="233.18" y="538.52" width="15.17" height="15.17" fill="#f8fbff"/>
<rect x="248.35" y="538.52" width="15.17" height="15.17" fill="#f8fbff"/>
<rect x="263.52" y="538.52" width="15.17" height="15.17" fill="#f8fbff"/>
<rect x="157.30" y="553.70" width="15.17" height="15.17" fill="#c0d6fa"/>
<rect x="172.48" y="553.70" width="15.17" height="15.17" fill="#b8d2fa"/>
<rect x="187.65" y="553.70" width="15.17" height="15.17" fill="#b0cdf9"/>
<rect x="202.82" y="553.70" width="15.17" height="15.17" fill="#a8c8f9"/>
<rect x="218.00" y="553.70" width="15.17" height="15.17" fill="#f0f5fe"/>
<rect x="233.18" y="553.70" width="15.17" height="15.17" fill="#f8fbff"/>
<rect x="248.35" y="553.70" width="15.17" height="15.17" fill="#f8fbff"/>
<rect x="263.52" y="553.70" width="15.17" height="15.17" fill="#f8fbff"/>
<rect x="157.30" y="568.88" width="15.17" height="15.17" fill="#c4d8fa"/>
<rect x="172.48" y="568.88" width="15.17" height="15.17" fill="#bcd4fa"/>
<rect x="187.65" y="568.88" width="15.17" height="15.17" fill="#b8d2fa"/>
<rect x="202.82" y="568.88" width="15.17" height="15.17" fill="#acc9f9"/>
<rect x="218.00" y="568.88" width="15.17" height="15.17" fill="#d0e1fc"/>
<rect x="233.18" y="568.88" width="15.17" height="15.17" fill="#f8fbff"/>
<rect x="248.35" y="568.88" width="15.17" height="15.17" fill="#f8fbff"/>
<rect x="263.52" y="568.88" width="15.17" height="15.17" fill="#f8fbff"/>
<rect x="157.30" y="584.05" width="15.17" height="15.17" fill="#c0d6fa"/>
<rect x="172.48" y="584.05" width="15.17" height="15.17" fill="#bcd4fa"/>
<rect x="187.65" y="584.05" width="15.17" height="15.17" fill="#bcd4fa"/>
<rect x="202.82" y="584.05" width="15.17" height="15.17" fill="#b4cffa"/>
<rect x="218.00" y="584.05" width="15.17" height="15.17" fill="#c8dcfb"/>
<rect x="233.18" y="584.05" width="15.17" height="15.17" fill="#f8fbff"/>
<rect x="248.35" y="584.05" width="15.17" height="15.17" fill="#f8fbff"/>
<rect x="263.52" y="584.05" width="15.17" height="15.17" fill="#f8fbff"/>
<rect x="157.30" y="599.22" width="15.17" height="15.17" fill="#8ab4f7"/>
<rect x="172.48" y="599.22" width="15.17" height="15.17" fill="#80acf7"/>
<rect x="187.65" y="599.22" width="15.17" height="15.17" fill="#98bef8"/>
<rect x="202.82" y="599.22" width="15.17" height="15.17" fill="#98bef8"/>
<rect x="218.00" y="599.22" width="15.17" height="15.17" fill="#d8e6fc"/>
<rect x="233.18" y="599.22" width="15.17" height="15.17" fill="#eaf1fe"/>
<rect x="248.35" y="599.22" width="15.17" height="15.17" fill="#f8fbff"/>
<rect x="263.52" y="599.22" width="15.17" height="15.17" fill="#f8fbff"/>
<line x1="172.48" y1="432.3" x2="172.48" y2="614.4" stroke="#fff" stroke-width="1"/>
<line x1="187.65" y1="432.3" x2="187.65" y2="614.4" stroke="#fff" stroke-width="1"/>
<line x1="202.82" y1="432.3" x2="202.82" y2="614.4" stroke="#fff" stroke-width="1"/>
<line x1="218.00" y1="432.3" x2="218.00" y2="614.4" stroke="#fff" stroke-width="1"/>
<line x1="233.18" y1="432.3" x2="233.18" y2="614.4" stroke="#fff" stroke-width="1"/>
<line x1="248.35" y1="432.3" x2="248.35" y2="614.4" stroke="#fff" stroke-width="1"/>
<line x1="263.52" y1="432.3" x2="263.52" y2="614.4" stroke="#fff" stroke-width="1"/>
<line x1="157.3" y1="447.48" x2="278.7" y2="447.48" stroke="#fff" stroke-width="1"/>
<line x1="157.3" y1="462.65" x2="278.7" y2="462.65" stroke="#fff" stroke-width="1"/>
<line x1="157.3" y1="477.82" x2="278.7" y2="477.82" stroke="#fff" stroke-width="1"/>
<line x1="157.3" y1="493.00" x2="278.7" y2="493.00" stroke="#fff" stroke-width="1"/>
<line x1="157.3" y1="508.18" x2="278.7" y2="508.18" stroke="#fff" stroke-width="1"/>
<line x1="157.3" y1="523.35" x2="278.7" y2="523.35" stroke="#fff" stroke-width="1"/>
<line x1="157.3" y1="538.52" x2="278.7" y2="538.52" stroke="#fff" stroke-width="1"/>
<line x1="157.3" y1="553.70" x2="278.7" y2="553.70" stroke="#fff" stroke-width="1"/>
<line x1="157.3" y1="568.88" x2="278.7" y2="568.88" stroke="#fff" stroke-width="1"/>
<line x1="157.3" y1="584.05" x2="278.7" y2="584.05" stroke="#fff" stroke-width="1"/>
<line x1="157.3" y1="599.22" x2="278.7" y2="599.22" stroke="#fff" stroke-width="1"/>
<rect x="157.3" y="432.3" width="121.40" height="182.10" fill="none" stroke="#000" stroke-width="1.5"/>
<line x1="172.57" y1="428.62" x2="172.57" y2="432.3" stroke="#000" stroke-width="1.3"/>
<text x="171.19" y="422.55" transform="rotate(-45 171.19 419.60)" text-anchor="middle" font-family="'Liberation Serif', serif" font-weight="bold" font-size="8.65">0</text>
<line x1="187.61" y1="428.62" x2="187.61" y2="432.3" stroke="#000" stroke-width="1.3"/>
<text x="186.23" y="422.55" transform="rotate(-45 186.23 419.60)" text-anchor="middle" font-family="'Liberation Serif', serif" font-weight="bold" font-size="8.65">1.25</text>
<line x1="202.66" y1="428.62" x2="202.66" y2="432.3" stroke="#000" stroke-width="1.3"/>
<text x="201.28" y="422.55" transform="rotate(-45 201.28 419.60)" text-anchor="middle" font-family="'Liberation Serif', serif" font-weight="bold" font-size="8.65">2.5</text>
<line x1="217.70" y1="428.62" x2="217.70" y2="432.3" stroke="#000" stroke-width="1.3"/>
<text x="216.32" y="422.55" transform="rotate(-45 216.32 419.60)" text-anchor="middle" font-family="'Liberation Serif', serif" font-weight="bold" font-size="8.65">5</text>
<line x1="232.74" y1="428.62" x2="232.74" y2="432.3" stroke="#000" stroke-width="1.3"/>
<text x="231.36" y="422.55" transform="rotate(-45 231.36 419.60)" text-anchor="middle" font-family="'Liberation Serif', serif" font-weight="bold" font-size="8.65">10</text>
<line x1="247.79" y1="428.62" x2="247.79" y2="432.3" stroke="#000" stroke-width="1.3"/>
<text x="246.41" y="422.55" transform="rotate(-45 246.41 419.60)" text-anchor="middle" font-family="'Liberation Serif', serif" font-weight="bold" font-size="8.65">20</text>
<line x1="262.83" y1="428.62" x2="262.83" y2="432.3" stroke="#000" stroke-width="1.3"/>
<text x="261.45" y="422.55" transform="rotate(-45 261.45 419.60)" text-anchor="middle" font-family="'Liberation Serif', serif" font-weight="bold" font-size="8.65">40</text>
<line x1="277.87" y1="428.62" x2="277.87" y2="432.3" stroke="#000" stroke-width="1.3"/>
<text x="276.49" y="422.55" transform="rotate(-45 276.49 419.60)" text-anchor="middle" font-family="'Liberation Serif', serif" font-weight="bold" font-size="8.65">80</text>
<line x1="154.08" y1="446.81" x2="157.3" y2="446.81" stroke="#000" stroke-width="1.3"/>
<text x="150.12" y="448.46" text-anchor="end" font-family="'Liberation Serif', serif" font-weight="bold" font-size="8.65">512</text>
<line x1="154.08" y1="462.00" x2="157.3" y2="462.00" stroke="#000" stroke-width="1.3"/>
<text x="150.12" y="463.65" text-anchor="end" font-family="'Liberation Serif', serif" font-weight="bold" font-size="8.65">256</text>
<line x1="154.08" y1="477.18" x2="157.3" y2="477.18" stroke="#000" stroke-width="1.3"/>
<text x="150.12" y="478.84" text-anchor="end" font-family="'Liberation Serif', serif" font-weight="bold" font-size="8.65">128</text>
<line x1="154.08" y1="492.37" x2="157.3" y2="492.37" stroke="#000" stroke-width="1.3"/>
<text x="150.12" y="494.03" text-anchor="end" font-family="'Liberation Serif', serif" font-weight="bold" font-size="8.65">64</text>
<line x1="154.08" y1="507.56" x2="157.3" y2="507.56" stroke="#000" stroke-width="1.3"/>
<text x="150.12" y="509.22" text-anchor="end" font-family="'Liberation Serif', serif" font-weight="bold" font-size="8.65">32</text>
<line x1="154.08" y1="522.75" x2="157.3" y2="522.75" stroke="#000" stroke-width="1.3"/>
<text x="150.12" y="524.41" text-anchor="end" font-family="'Liberation Serif', serif" font-weight="bold" font-size="8.65">16</text>
<line x1="154.08" y1="537.94" x2="157.3" y2="537.94" stroke="#000" stroke-width="1.3"/>
<text x="150.12" y="539.59" text-anchor="end" font-family="'Liberation Serif', serif" font-weight="bold" font-size="8.65">8</text>
<line x1="154.08" y1="553.13" x2="157.3" y2="553.13" stroke="#000" stroke-width="1.3"/>
<text x="150.12" y="554.78" text-anchor="end" font-family="'Liberation Serif', serif" font-weight="bold" font-size="8.65">4</text>
<line x1="154.08" y1="568.31" x2="157.3" y2="568.31" stroke="#000" stroke-width="1.3"/>
<text x="150.12" y="569.97" text-anchor="end" font-family="'Liberation Serif', serif" font-weight="bold" font-size="8.65">2</text>
<line x1="154.08" y1="583.50" x2="157.3" y2="583.50" stroke="#000" stroke-width="1.3"/>
<text x="150.12" y="585.16" text-anchor="end" font-family="'Liberation Serif', serif" font-weight="bold" font-size="8.65">1</text>
<line x1="154.08" y1="598.69" x2="157.3" y2="598.69" stroke="#000" stroke-width="1.3"/>
<text x="150.12" y="600.35" text-anchor="end" font-family="'Liberation Serif', serif" font-weight="bold" font-size="8.65">0.5</text>
<line x1="154.08" y1="613.88" x2="157.3" y2="613.88" stroke="#000" stroke-width="1.3"/>
<text x="150.12" y="615.54" text-anchor="end" font-family="'Liberation Serif', serif" font-weight="bold" font-size="8.65">0</text>
<text x="220.85" y="397.98" text-anchor="middle" textLength="62.93" lengthAdjust="spacingAndGlyphs" font-family="'Liberation Serif', serif" font-weight="bold" font-size="9.48">NPPB (μg/mL)</text>
<text x="123.08" y="529.51" transform="rotate(-90 123.08 529.51)" text-anchor="middle" dominant-baseline="central" textLength="75.81" lengthAdjust="spacingAndGlyphs" font-family="'Liberation Serif', serif" font-weight="bold" font-size="9.20">Oxacillin (μg/mL)</text>
<text x="218.74" y="632.04" text-anchor="middle" textLength="57.78" lengthAdjust="spacingAndGlyphs" font-family="'Liberation Serif', serif" font-weight="bold" font-size="9.29">Inhibition (%)</text>
<rect x="157.3" y="634.80" width="121.40" height="17.85" fill="url(#cbg)" stroke="#000" stroke-width="1.6"/>
<line x1="158.68" y1="634.804" x2="158.68" y2="637.564" stroke="#000" stroke-width="1.2"/>
<line x1="158.68" y1="649.8919999999999" x2="158.68" y2="652.6519999999999" stroke="#000" stroke-width="1.2"/>
<text x="158.68" y="666.08" text-anchor="middle" font-family="'Liberation Serif', serif" font-size="9.48" fill="#2a2a2a">-50</text>
<line x1="198.69" y1="634.804" x2="198.69" y2="637.564" stroke="#000" stroke-width="1.2"/>
<line x1="198.69" y1="649.8919999999999" x2="198.69" y2="652.6519999999999" stroke="#000" stroke-width="1.2"/>
<text x="198.69" y="666.08" text-anchor="middle" font-family="'Liberation Serif', serif" font-size="9.48" fill="#2a2a2a">0</text>
<line x1="238.69" y1="634.804" x2="238.69" y2="637.564" stroke="#000" stroke-width="1.2"/>
<line x1="238.69" y1="649.8919999999999" x2="238.69" y2="652.6519999999999" stroke="#000" stroke-width="1.2"/>
<text x="238.69" y="666.08" text-anchor="middle" font-family="'Liberation Serif', serif" font-size="9.48" fill="#2a2a2a">50</text>
<text x="278.70" y="666.08" text-anchor="middle" font-family="'Liberation Serif', serif" font-size="9.48" fill="#2a2a2a">100</text>
<rect x="405.80" y="432.30" width="15.19" height="15.20" fill="#eaf1fe"/>
<rect x="420.99" y="432.30" width="15.19" height="15.20" fill="#eef3fe"/>
<rect x="436.18" y="432.30" width="15.19" height="15.20" fill="#f4f8ff"/>
<rect x="451.36" y="432.30" width="15.19" height="15.20" fill="#f4f8ff"/>
<rect x="466.55" y="432.30" width="15.19" height="15.20" fill="#f8fbff"/>
<rect x="481.74" y="432.30" width="15.19" height="15.20" fill="#f8fbff"/>
<rect x="496.92" y="432.30" width="15.19" height="15.20" fill="#f8fbff"/>
<rect x="512.11" y="432.30" width="15.19" height="15.20" fill="#f8fbff"/>
<rect x="405.80" y="447.50" width="15.19" height="15.20" fill="#e8f0fd"/>
<rect x="420.99" y="447.50" width="15.19" height="15.20" fill="#eef3fe"/>
<rect x="436.18" y="447.50" width="15.19" height="15.20" fill="#f4f8ff"/>
<rect x="451.36" y="447.50" width="15.19" height="15.20" fill="#f4f8ff"/>
<rect x="466.55" y="447.50" width="15.19" height="15.20" fill="#f8fbff"/>
<rect x="481.74" y="447.50" width="15.19" height="15.20" fill="#f8fbff"/>
<rect x="496.92" y="447.50" width="15.19" height="15.20" fill="#f8fbff"/>
<rect x="512.11" y="447.50" width="15.19" height="15.20" fill="#f8fbff"/>
<rect x="405.80" y="462.70" width="15.19" height="15.20" fill="#eef3fe"/>
<rect x="420.99" y="462.70" width="15.19" height="15.20" fill="#e8f0fd"/>
<rect x="436.18" y="462.70" width="15.19" height="15.20" fill="#f4f8ff"/>
<rect x="451.36" y="462.70" width="15.19" height="15.20" fill="#f2f6fe"/>
<rect x="466.55" y="462.70" width="15.19" height="15.20" fill="#f8fbff"/>
<rect x="481.74" y="462.70" width="15.19" height="15.20" fill="#f8fbff"/>
<rect x="496.92" y="462.70" width="15.19" height="15.20" fill="#f8fbff"/>
<rect x="512.11" y="462.70" width="15.19" height="15.20" fill="#f8fbff"/>
<rect x="405.80" y="477.90" width="15.19" height="15.20" fill="#f2f6fe"/>
<rect x="420.99" y="477.90" width="15.19" height="15.20" fill="#eef3fe"/>
<rect x="436.18" y="477.90" width="15.19" height="15.20" fill="#f4f8ff"/>
<rect x="451.36" y="477.90" width="15.19" height="15.20" fill="#f4f8ff"/>
<rect x="466.55" y="477.90" width="15.19" height="15.20" fill="#f8fbff"/>
<rect x="481.74" y="477.90" width="15.19" height="15.20" fill="#f8fbff"/>
<rect x="496.92" y="477.90" width="15.19" height="15.20" fill="#f8fbff"/>
<rect x="512.11" y="477.90" width="15.19" height="15.20" fill="#f8fbff"/>
<rect x="405.80" y="493.10" width="15.19" height="15.20" fill="#f2f6fe"/>
<rect x="420.99" y="493.10" width="15.19" height="15.20" fill="#eef3fe"/>
<rect x="436.18" y="493.10" width="15.19" height="15.20" fill="#f4f8ff"/>
<rect x="451.36" y="493.10" width="15.19" height="15.20" fill="#f4f8ff"/>
<rect x="466.55" y="493.10" width="15.19" height="15.20" fill="#f8fbff"/>
<rect x="481.74" y="493.10" width="15.19" height="15.20" fill="#f8fbff"/>
<rect x="496.92" y="493.10" width="15.19" height="15.20" fill="#f8fbff"/>
<rect x="512.11" y="493.10" width="15.19" height="15.20" fill="#f8fbff"/>
<rect x="405.80" y="508.30" width="15.19" height="15.20" fill="#f2f6fe"/>
<rect x="420.99" y="508.30" width="15.19" height="15.20" fill="#f2f6fe"/>
<rect x="436.18" y="508.30" width="15.19" height="15.20" fill="#f0f5fe"/>
<rect x="451.36" y="508.30" width="15.19" height="15.20" fill="#f2f6fe"/>
<rect x="466.55" y="508.30" width="15.19" height="15.20" fill="#f8fbff"/>
<rect x="481.74" y="508.30" width="15.19" height="15.20" fill="#f8fbff"/>
<rect x="496.92" y="508.30" width="15.19" height="15.20" fill="#f8fbff"/>
<rect x="512.11" y="508.30" width="15.19" height="15.20" fill="#f0f5fe"/>
<rect x="405.80" y="523.50" width="15.19" height="15.20" fill="#c3dcb0"/>
<rect x="420.99" y="523.50" width="15.19" height="15.20" fill="#eef3fe"/>
<rect x="436.18" y="523.50" width="15.19" height="15.20" fill="#eef3fe"/>
<rect x="451.36" y="523.50" width="15.19" height="15.20" fill="#eef3fe"/>
<rect x="466.55" y="523.50" width="15.19" height="15.20" fill="#f8fbff"/>
<rect x="481.74" y="523.50" width="15.19" height="15.20" fill="#f8fbff"/>
<rect x="496.92" y="523.50" width="15.19" height="15.20" fill="#f8fbff"/>
<rect x="512.11" y="523.50" width="15.19" height="15.20" fill="#f8fbff"/>
<rect x="405.80" y="538.70" width="15.19" height="15.20" fill="#78a4f6"/>
<rect x="420.99" y="538.70" width="15.19" height="15.20" fill="#8cb6f8"/>
<rect x="436.18" y="538.70" width="15.19" height="15.20" fill="#a8c8f9"/>
<rect x="451.36" y="538.70" width="15.19" height="15.20" fill="#b0cdf9"/>
<rect x="466.55" y="538.70" width="15.19" height="15.20" fill="#f8fbff"/>
<rect x="481.74" y="538.70" width="15.19" height="15.20" fill="#f8fbff"/>
<rect x="496.92" y="538.70" width="15.19" height="15.20" fill="#f8fbff"/>
<rect x="512.11" y="538.70" width="15.19" height="15.20" fill="#f8fbff"/>
<rect x="405.80" y="553.90" width="15.19" height="15.20" fill="#98bef8"/>
<rect x="420.99" y="553.90" width="15.19" height="15.20" fill="#90b8f8"/>
<rect x="436.18" y="553.90" width="15.19" height="15.20" fill="#90b8f8"/>
<rect x="451.36" y="553.90" width="15.19" height="15.20" fill="#98bef8"/>
<rect x="466.55" y="553.90" width="15.19" height="15.20" fill="#f8fbff"/>
<rect x="481.74" y="553.90" width="15.19" height="15.20" fill="#f8fbff"/>
<rect x="496.92" y="553.90" width="15.19" height="15.20" fill="#f8fbff"/>
<rect x="512.11" y="553.90" width="15.19" height="15.20" fill="#f8fbff"/>
<rect x="405.80" y="569.10" width="15.19" height="15.20" fill="#a0c4f8"/>
<rect x="420.99" y="569.10" width="15.19" height="15.20" fill="#a0c4f8"/>
<rect x="436.18" y="569.10" width="15.19" height="15.20" fill="#a8c8f9"/>
<rect x="451.36" y="569.10" width="15.19" height="15.20" fill="#a4c6f8"/>
<rect x="466.55" y="569.10" width="15.19" height="15.20" fill="#f8fbff"/>
<rect x="481.74" y="569.10" width="15.19" height="15.20" fill="#f8fbff"/>
<rect x="496.92" y="569.10" width="15.19" height="15.20" fill="#f8fbff"/>
<rect x="512.11" y="569.10" width="15.19" height="15.20" fill="#f8fbff"/>
<rect x="405.80" y="584.30" width="15.19" height="15.20" fill="#a0c4f8"/>
<rect x="420.99" y="584.30" width="15.19" height="15.20" fill="#9cc0f8"/>
<rect x="436.18" y="584.30" width="15.19" height="15.20" fill="#a4c6f8"/>
<rect x="451.36" y="584.30" width="15.19" height="15.20" fill="#acc9f9"/>
<rect x="466.55" y="584.30" width="15.19" height="15.20" fill="#f5318f"/>
<rect x="481.74" y="584.30" width="15.19" height="15.20" fill="#f8fbff"/>
<rect x="496.92" y="584.30" width="15.19" height="15.20" fill="#f8fbff"/>
<rect x="512.11" y="584.30" width="15.19" height="15.20" fill="#f8fbff"/>
<rect x="405.80" y="599.50" width="15.19" height="15.20" fill="#4060f6"/>
<rect x="420.99" y="599.50" width="15.19" height="15.20" fill="#4c6cf6"/>
<rect x="436.18" y="599.50" width="15.19" height="15.20" fill="#5c7ef6"/>
<rect x="451.36" y="599.50" width="15.19" height="15.20" fill="#6a90f6"/>
<rect x="466.55" y="599.50" width="15.19" height="15.20" fill="#90bcf8"/>
<rect x="481.74" y="599.50" width="15.19" height="15.20" fill="#c8dcfb"/>
<rect x="496.92" y="599.50" width="15.19" height="15.20" fill="#f8fbff"/>
<rect x="512.11" y="599.50" width="15.19" height="15.20" fill="#f8fbff"/>
<line x1="420.99" y1="432.3" x2="420.99" y2="614.7" stroke="#fff" stroke-width="1"/>
<line x1="436.18" y1="432.3" x2="436.18" y2="614.7" stroke="#fff" stroke-width="1"/>
<line x1="451.36" y1="432.3" x2="451.36" y2="614.7" stroke="#fff" stroke-width="1"/>
<line x1="466.55" y1="432.3" x2="466.55" y2="614.7" stroke="#fff" stroke-width="1"/>
<line x1="481.74" y1="432.3" x2="481.74" y2="614.7" stroke="#fff" stroke-width="1"/>
<line x1="496.92" y1="432.3" x2="496.92" y2="614.7" stroke="#fff" stroke-width="1"/>
<line x1="512.11" y1="432.3" x2="512.11" y2="614.7" stroke="#fff" stroke-width="1"/>
<line x1="405.8" y1="447.50" x2="527.3" y2="447.50" stroke="#fff" stroke-width="1"/>
<line x1="405.8" y1="462.70" x2="527.3" y2="462.70" stroke="#fff" stroke-width="1"/>
<line x1="405.8" y1="477.90" x2="527.3" y2="477.90" stroke="#fff" stroke-width="1"/>
<line x1="405.8" y1="493.10" x2="527.3" y2="493.10" stroke="#fff" stroke-width="1"/>
<line x1="405.8" y1="508.30" x2="527.3" y2="508.30" stroke="#fff" stroke-width="1"/>
<line x1="405.8" y1="523.50" x2="527.3" y2="523.50" stroke="#fff" stroke-width="1"/>
<line x1="405.8" y1="538.70" x2="527.3" y2="538.70" stroke="#fff" stroke-width="1"/>
<line x1="405.8" y1="553.90" x2="527.3" y2="553.90" stroke="#fff" stroke-width="1"/>
<line x1="405.8" y1="569.10" x2="527.3" y2="569.10" stroke="#fff" stroke-width="1"/>
<line x1="405.8" y1="584.30" x2="527.3" y2="584.30" stroke="#fff" stroke-width="1"/>
<line x1="405.8" y1="599.50" x2="527.3" y2="599.50" stroke="#fff" stroke-width="1"/>
<rect x="405.8" y="432.3" width="121.50" height="182.40" fill="none" stroke="#000" stroke-width="1.5"/>
<line x1="421.07" y1="428.62" x2="421.07" y2="432.3" stroke="#000" stroke-width="1.3"/>
<text x="419.69" y="422.55" transform="rotate(-45 419.69 419.60)" text-anchor="middle" font-family="'Liberation Serif', serif" font-weight="bold" font-size="8.65">0</text>
<line x1="436.13" y1="428.62" x2="436.13" y2="432.3" stroke="#000" stroke-width="1.3"/>
<text x="434.75" y="422.55" transform="rotate(-45 434.75 419.60)" text-anchor="middle" font-family="'Liberation Serif', serif" font-weight="bold" font-size="8.65">1.25</text>
<line x1="451.19" y1="428.62" x2="451.19" y2="432.3" stroke="#000" stroke-width="1.3"/>
<text x="449.81" y="422.55" transform="rotate(-45 449.81 419.60)" text-anchor="middle" font-family="'Liberation Serif', serif" font-weight="bold" font-size="8.65">2.5</text>
<line x1="466.24" y1="428.62" x2="466.24" y2="432.3" stroke="#000" stroke-width="1.3"/>
<text x="464.86" y="422.55" transform="rotate(-45 464.86 419.60)" text-anchor="middle" font-family="'Liberation Serif', serif" font-weight="bold" font-size="8.65">5</text>
<line x1="481.30" y1="428.62" x2="481.30" y2="432.3" stroke="#000" stroke-width="1.3"/>
<text x="479.92" y="422.55" transform="rotate(-45 479.92 419.60)" text-anchor="middle" font-family="'Liberation Serif', serif" font-weight="bold" font-size="8.65">10</text>
<line x1="496.36" y1="428.62" x2="496.36" y2="432.3" stroke="#000" stroke-width="1.3"/>
<text x="494.98" y="422.55" transform="rotate(-45 494.98 419.60)" text-anchor="middle" font-family="'Liberation Serif', serif" font-weight="bold" font-size="8.65">20</text>
<line x1="511.41" y1="428.62" x2="511.41" y2="432.3" stroke="#000" stroke-width="1.3"/>
<text x="510.03" y="422.55" transform="rotate(-45 510.03 419.60)" text-anchor="middle" font-family="'Liberation Serif', serif" font-weight="bold" font-size="8.65">40</text>
<line x1="526.47" y1="428.62" x2="526.47" y2="432.3" stroke="#000" stroke-width="1.3"/>
<text x="525.09" y="422.55" transform="rotate(-45 525.09 419.60)" text-anchor="middle" font-family="'Liberation Serif', serif" font-weight="bold" font-size="8.65">80</text>
<line x1="402.58" y1="446.61" x2="405.8" y2="446.61" stroke="#000" stroke-width="1.3"/>
<text x="398.62" y="448.26" text-anchor="end" font-family="'Liberation Serif', serif" font-weight="bold" font-size="8.65">512</text>
<line x1="402.58" y1="461.83" x2="405.8" y2="461.83" stroke="#000" stroke-width="1.3"/>
<text x="398.62" y="463.49" text-anchor="end" font-family="'Liberation Serif', serif" font-weight="bold" font-size="8.65">256</text>
<line x1="402.58" y1="477.06" x2="405.8" y2="477.06" stroke="#000" stroke-width="1.3"/>
<text x="398.62" y="478.71" text-anchor="end" font-family="'Liberation Serif', serif" font-weight="bold" font-size="8.65">128</text>
<line x1="402.58" y1="492.28" x2="405.8" y2="492.28" stroke="#000" stroke-width="1.3"/>
<text x="398.62" y="493.94" text-anchor="end" font-family="'Liberation Serif', serif" font-weight="bold" font-size="8.65">64</text>
<line x1="402.58" y1="507.51" x2="405.8" y2="507.51" stroke="#000" stroke-width="1.3"/>
<text x="398.62" y="509.16" text-anchor="end" font-family="'Liberation Serif', serif" font-weight="bold" font-size="8.65">32</text>
<line x1="402.58" y1="522.73" x2="405.8" y2="522.73" stroke="#000" stroke-width="1.3"/>
<text x="398.62" y="524.39" text-anchor="end" font-family="'Liberation Serif', serif" font-weight="bold" font-size="8.65">16</text>
<line x1="402.58" y1="537.96" x2="405.8" y2="537.96" stroke="#000" stroke-width="1.3"/>
<text x="398.62" y="539.61" text-anchor="end" font-family="'Liberation Serif', serif" font-weight="bold" font-size="8.65">8</text>
<line x1="402.58" y1="553.18" x2="405.8" y2="553.18" stroke="#000" stroke-width="1.3"/>
<text x="398.62" y="554.84" text-anchor="end" font-family="'Liberation Serif', serif" font-weight="bold" font-size="8.65">4</text>
<line x1="402.58" y1="568.41" x2="405.8" y2="568.41" stroke="#000" stroke-width="1.3"/>
<text x="398.62" y="570.06" text-anchor="end" font-family="'Liberation Serif', serif" font-weight="bold" font-size="8.65">2</text>
<line x1="402.58" y1="583.63" x2="405.8" y2="583.63" stroke="#000" stroke-width="1.3"/>
<text x="398.62" y="585.29" text-anchor="end" font-family="'Liberation Serif', serif" font-weight="bold" font-size="8.65">1</text>
<line x1="402.58" y1="598.86" x2="405.8" y2="598.86" stroke="#000" stroke-width="1.3"/>
<text x="398.62" y="600.51" text-anchor="end" font-family="'Liberation Serif', serif" font-weight="bold" font-size="8.65">0.5</text>
<line x1="402.58" y1="614.08" x2="405.8" y2="614.08" stroke="#000" stroke-width="1.3"/>
<text x="398.62" y="615.74" text-anchor="end" font-family="'Liberation Serif', serif" font-weight="bold" font-size="8.65">0</text>
<text x="469.40" y="397.98" text-anchor="middle" textLength="62.93" lengthAdjust="spacingAndGlyphs" font-family="'Liberation Serif', serif" font-weight="bold" font-size="9.48">NPPB (μg/mL)</text>
<text x="371.58" y="529.66" transform="rotate(-90 371.58 529.66)" text-anchor="middle" dominant-baseline="central" textLength="75.81" lengthAdjust="spacingAndGlyphs" font-family="'Liberation Serif', serif" font-weight="bold" font-size="9.20">Oxacillin (μg/mL)</text>
<text x="467.29" y="632.14" text-anchor="middle" textLength="57.78" lengthAdjust="spacingAndGlyphs" font-family="'Liberation Serif', serif" font-weight="bold" font-size="9.29">Inhibition (%)</text>
<rect x="405.8" y="634.90" width="121.50" height="17.85" fill="url(#cbg2)" stroke="#000" stroke-width="1.6"/>
<line x1="407.18" y1="634.9040000000001" x2="407.18" y2="637.6640000000001" stroke="#000" stroke-width="1.2"/>
<line x1="407.18" y1="649.9920000000001" x2="407.18" y2="652.7520000000001" stroke="#000" stroke-width="1.2"/>
<text x="407.18" y="666.18" text-anchor="middle" font-family="'Liberation Serif', serif" font-size="9.48" fill="#2a2a2a">-50</text>
<line x1="447.22" y1="634.9040000000001" x2="447.22" y2="637.6640000000001" stroke="#000" stroke-width="1.2"/>
<line x1="447.22" y1="649.9920000000001" x2="447.22" y2="652.7520000000001" stroke="#000" stroke-width="1.2"/>
<text x="447.22" y="666.18" text-anchor="middle" font-family="'Liberation Serif', serif" font-size="9.48" fill="#2a2a2a">0</text>
<line x1="487.26" y1="634.9040000000001" x2="487.26" y2="637.6640000000001" stroke="#000" stroke-width="1.2"/>
<line x1="487.26" y1="649.9920000000001" x2="487.26" y2="652.7520000000001" stroke="#000" stroke-width="1.2"/>
<text x="487.26" y="666.18" text-anchor="middle" font-family="'Liberation Serif', serif" font-size="9.48" fill="#2a2a2a">50</text>
<text x="527.30" y="666.18" text-anchor="middle" font-family="'Liberation Serif', serif" font-size="9.48" fill="#2a2a2a">100</text>
<text x="69.60" y="27.8" textLength="44.80" lengthAdjust="spacingAndGlyphs" font-family="'Liberation Serif', serif" font-weight="bold" font-size="16">MRSA</text>
<text x="117.40" y="27.8" textLength="48.40" lengthAdjust="spacingAndGlyphs" font-family="'Liberation Serif', serif" font-weight="bold" font-size="16">(ATCC</text>
<text x="172.40" y="27.8" textLength="45.80" lengthAdjust="spacingAndGlyphs" font-family="'Liberation Serif', serif" font-weight="bold" font-size="16">33591)</text>
<text x="298.80" y="27.9" textLength="45.60" lengthAdjust="spacingAndGlyphs" font-family="'Liberation Serif', serif" font-weight="bold" font-size="16">MRSA</text>
<text x="347.40" y="27.9" textLength="96.20" lengthAdjust="spacingAndGlyphs" font-family="'Liberation Serif', serif" font-weight="bold" font-size="16">(NCTC10442)</text>
<text x="532.60" y="27.8" textLength="45.50" lengthAdjust="spacingAndGlyphs" font-family="'Liberation Serif', serif" font-weight="bold" font-size="16">MRSA</text>
<text x="581.40" y="27.8" textLength="46.50" lengthAdjust="spacingAndGlyphs" font-family="'Liberation Serif', serif" font-weight="bold" font-size="16">(N315)</text>
<text x="160.60" y="376.6" textLength="45.80" lengthAdjust="spacingAndGlyphs" font-family="'Liberation Serif', serif" font-weight="bold" font-size="16">MRSA</text>
<text x="210.10" y="376.6" textLength="80.70" lengthAdjust="spacingAndGlyphs" font-family="'Liberation Serif', serif" font-weight="bold" font-size="16">(CNU-2601)</text>
<text x="407.60" y="376.3" textLength="46.10" lengthAdjust="spacingAndGlyphs" font-family="'Liberation Serif', serif" font-weight="bold" font-size="16">MRSA</text>
<text x="457.20" y="376.3" textLength="80.30" lengthAdjust="spacingAndGlyphs" font-family="'Liberation Serif', serif" font-weight="bold" font-size="16">(CNU-2617)</text>
<text x="0.5" y="713.8" font-family="'Liberation Serif', serif" font-weight="bold" font-size="15.5">(b)</text>
<line x1="59.2" y1="705.4" x2="59.2" y2="925.8" stroke="#000" stroke-width="2"/>
<line x1="58.2" y1="924.8" x2="323.3" y2="924.8" stroke="#000" stroke-width="2"/>
<line x1="52.3" y1="705.38" x2="59" y2="705.38" stroke="#000" stroke-width="1.8"/>
<text x="49.5" y="709.28" text-anchor="end" font-family="'Liberation Sans', sans-serif" font-weight="bold" font-size="11">0.6</text>
<line x1="52.3" y1="778.52" x2="59" y2="778.52" stroke="#000" stroke-width="1.8"/>
<text x="49.5" y="782.42" text-anchor="end" font-family="'Liberation Sans', sans-serif" font-weight="bold" font-size="11">0.4</text>
<line x1="52.3" y1="851.66" x2="59" y2="851.66" stroke="#000" stroke-width="1.8"/>
<text x="49.5" y="855.56" text-anchor="end" font-family="'Liberation Sans', sans-serif" font-weight="bold" font-size="11">0.2</text>
<line x1="52.3" y1="924.80" x2="59" y2="924.80" stroke="#000" stroke-width="1.8"/>
<text x="49.5" y="928.70" text-anchor="end" font-family="'Liberation Sans', sans-serif" font-weight="bold" font-size="11">0.0</text>
<line x1="86.4" y1="924.8" x2="86.4" y2="930.8" stroke="#000" stroke-width="1.8"/>
<text x="86.4" y="945" text-anchor="middle" font-family="'Liberation Serif', serif" font-weight="bold" font-size="12.5">2hr</text>
<line x1="128.2" y1="924.8" x2="128.2" y2="930.8" stroke="#000" stroke-width="1.8"/>
<text x="128.2" y="945" text-anchor="middle" font-family="'Liberation Serif', serif" font-weight="bold" font-size="12.5">4hr</text>
<line x1="169.8" y1="924.8" x2="169.8" y2="930.8" stroke="#000" stroke-width="1.8"/>
<text x="169.8" y="945" text-anchor="middle" font-family="'Liberation Serif', serif" font-weight="bold" font-size="12.5">6hr</text>
<line x1="211.5" y1="924.8" x2="211.5" y2="930.8" stroke="#000" stroke-width="1.8"/>
<text x="211.5" y="945" text-anchor="middle" font-family="'Liberation Serif', serif" font-weight="bold" font-size="12.5">8hr</text>
<line x1="253.4" y1="924.8" x2="253.4" y2="930.8" stroke="#000" stroke-width="1.8"/>
<text x="253.4" y="945" text-anchor="middle" font-family="'Liberation Serif', serif" font-weight="bold" font-size="12.5">10hr</text>
<line x1="295.1" y1="924.8" x2="295.1" y2="930.8" stroke="#000" stroke-width="1.8"/>
<text x="295.1" y="945" text-anchor="middle" font-family="'Liberation Serif', serif" font-weight="bold" font-size="12.5">24hr</text>
<text x="25.8" y="815" transform="rotate(-90 25.8 815)" text-anchor="middle" font-family="'Liberation Serif', serif" font-weight="bold" font-size="13">Absorbance (630 nm)</text>
<polyline points="86.4,894.81 128.2,892.98 169.8,893.72 211.5,888.60 253.4,893.35 295.1,893.35" fill="none" stroke="#0a0aff" stroke-width="1.8"/>
<path d="M86.4 892.3126 L88.9 894.8126 L86.4 897.3126 L83.9 894.8126 Z" fill="#0a0aff"/>
<path d="M128.2 890.4841 L130.7 892.9841 L128.2 895.4841 L125.69999999999999 892.9841 Z" fill="#0a0aff"/>
<path d="M169.8 891.2154999999999 L172.3 893.7154999999999 L169.8 896.2154999999999 L167.3 893.7154999999999 Z" fill="#0a0aff"/>
<path d="M211.5 886.0957 L214.0 888.5957 L211.5 891.0957 L209.0 888.5957 Z" fill="#0a0aff"/>
<path d="M253.4 890.8498 L255.9 893.3498 L253.4 895.8498 L250.9 893.3498 Z" fill="#0a0aff"/>
<path d="M295.1 890.8498 L297.6 893.3498 L295.1 895.8498 L292.6 893.3498 Z" fill="#0a0aff"/>
<polyline points="86.4,896.28 128.2,892.25 169.8,883.48 211.5,871.04 253.4,851.66 295.1,833.74" fill="none" stroke="#14c014" stroke-width="1.8"/>
<path d="M83.4 893.7754 L89.4 893.7754 L86.4 899.0754 Z" fill="#14c014"/>
<path d="M125.19999999999999 889.7527 L131.2 889.7527 L128.2 895.0527 Z" fill="#14c014"/>
<path d="M166.8 880.9758999999999 L172.8 880.9758999999999 L169.8 886.2758999999999 Z" fill="#14c014"/>
<path d="M208.5 868.5421 L214.5 868.5421 L211.5 873.8421 Z" fill="#14c014"/>
<path d="M250.4 849.16 L256.4 849.16 L253.4 854.4599999999999 Z" fill="#14c014"/>
<path d="M292.1 831.2407 L298.1 831.2407 L295.1 836.5406999999999 Z" fill="#14c014"/>
<polyline points="86.4,895.54 128.2,892.98 169.8,876.53 211.5,843.98 253.4,807.41 295.1,811.43" fill="none" stroke="#ff1010" stroke-width="1.8"/>
<path d="M86.4 892.544 L89.4 895.544 L86.4 898.544 L83.4 895.544 Z" fill="#ff9090" stroke="#ff1010" stroke-width="1.2"/>
<path d="M128.2 889.9841 L131.2 892.9841 L128.2 895.9841 L125.19999999999999 892.9841 Z" fill="#ff9090" stroke="#ff1010" stroke-width="1.2"/>
<path d="M169.8 873.5276 L172.8 876.5276 L169.8 879.5276 L166.8 876.5276 Z" fill="#ff9090" stroke="#ff1010" stroke-width="1.2"/>
<path d="M211.5 840.9802999999999 L214.5 843.9802999999999 L211.5 846.9802999999999 L208.5 843.9802999999999 Z" fill="#ff9090" stroke="#ff1010" stroke-width="1.2"/>
<path d="M253.4 804.4103 L256.4 807.4103 L253.4 810.4103 L250.4 807.4103 Z" fill="#ff9090" stroke="#ff1010" stroke-width="1.2"/>
<path d="M295.1 808.433 L298.1 811.433 L295.1 814.433 L292.1 811.433 Z" fill="#ff9090" stroke="#ff1010" stroke-width="1.2"/>
<polyline points="86.4,894.81 128.2,881.28 169.8,822.40 211.5,751.46 253.4,763.53 295.1,788.03" fill="none" stroke="#000000" stroke-width="1.8"/>
<rect x="83.80" y="892.21" width="5.2" height="5.2" fill="#000"/>
<rect x="125.60" y="878.68" width="5.2" height="5.2" fill="#000"/>
<rect x="167.20" y="819.80" width="5.2" height="5.2" fill="#000"/>
<rect x="208.90" y="748.86" width="5.2" height="5.2" fill="#000"/>
<rect x="250.80" y="760.93" width="5.2" height="5.2" fill="#000"/>
<rect x="292.50" y="785.43" width="5.2" height="5.2" fill="#000"/>
<line x1="211.5" y1="746.52" x2="211.5" y2="756.40" stroke="#000" stroke-width="1"/><line x1="208.9" y1="746.52" x2="214.1" y2="746.52" stroke="#000" stroke-width="1.2"/><line x1="208.9" y1="756.40" x2="214.1" y2="756.40" stroke="#000" stroke-width="1.2"/>
<line x1="253.4" y1="805.22" x2="253.4" y2="809.60" stroke="#ff1010" stroke-width="1"/><line x1="250.8" y1="805.22" x2="256.0" y2="805.22" stroke="#ff1010" stroke-width="1.2"/><line x1="250.8" y1="809.60" x2="256.0" y2="809.60" stroke="#ff1010" stroke-width="1.2"/>
<line x1="253.4" y1="849.10" x2="253.4" y2="854.22" stroke="#14c014" stroke-width="1"/><line x1="250.8" y1="849.10" x2="256.0" y2="849.10" stroke="#14c014" stroke-width="1.2"/><line x1="250.8" y1="854.22" x2="256.0" y2="854.22" stroke="#14c014" stroke-width="1.2"/>
<line x1="336" y1="797" x2="353.4" y2="797" stroke="#000000" stroke-width="1.6"/>
<rect x="342.5" y="794.8" width="4.4" height="4.4" fill="#000"/>
<text x="362.6" y="801.4" font-family="'Liberation Serif', serif" font-size="12.9" fill="#111">Untreated</text>
<line x1="336" y1="820.3" x2="353.4" y2="820.3" stroke="#ff1010" stroke-width="1.6"/>
<path d="M344.7 818.0 L347.0 820.3 L344.7 822.5999999999999 L342.4 820.3 Z" fill="#ff1010"/>
<text x="362.6" y="824.6999999999999" font-family="'Liberation Serif', serif" font-size="12.9" fill="#111">Oxacillin 32 μg/mL</text>
<line x1="336" y1="843" x2="353.4" y2="843" stroke="#14c014" stroke-width="1.6"/>
<path d="M342.2 841 L347.2 841 L344.7 845.3 Z" fill="#14c014"/>
<text x="362.6" y="847.4" font-family="'Liberation Serif', serif" font-size="12.9" fill="#111">NPPB 10 μg/mL</text>
<line x1="336" y1="865.3" x2="353.4" y2="865.3" stroke="#0a0aff" stroke-width="1.6"/>
<path d="M344.7 863.0 L347.0 865.3 L344.7 867.5999999999999 L342.4 865.3 Z" fill="#0a0aff"/>
<text x="362.6" y="869.6999999999999" font-family="'Liberation Serif', serif" font-size="12.9" fill="#111">Oxacillin 32 ug/mL + NPPB 10 ug/mL</text>
</svg>
</body></html>
